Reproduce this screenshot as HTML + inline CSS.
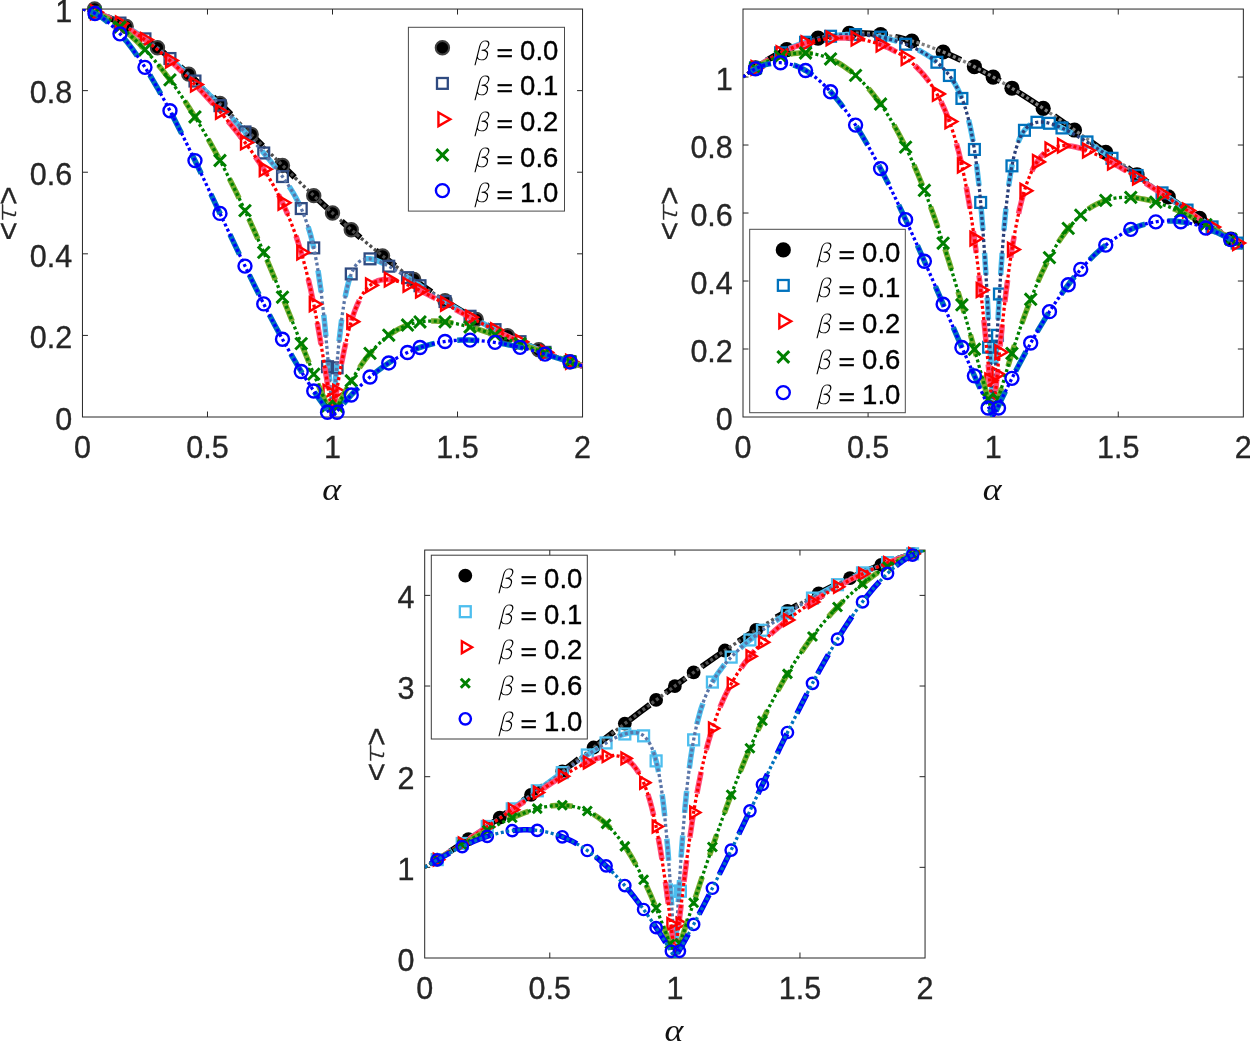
<!DOCTYPE html>
<html lang="en"><head><meta charset="utf-8"><title>Mean first passage time vs alpha</title>
<style>
html,body{margin:0;padding:0;background:#fff;}
body{width:1250px;height:1041px;overflow:hidden;}
svg{display:block;}
</style></head>
<body>
<svg width="1250" height="1041" viewBox="0 0 1250 1041">
<rect width="1250" height="1041" fill="#fff"/>
<clipPath id="clip1"><rect x="82.45" y="9.05" width="500.1" height="407.95"/></clipPath>
<g fill="none" stroke="#262626" stroke-width="1.0">
<rect x="82.45" y="9.05" width="500.1" height="407.95"/>
<path stroke-width="1" d="M207.47 417v-5.5M207.47 9.05v5.5M332.5 417v-5.5M332.5 9.05v5.5M457.52 417v-5.5M457.52 9.05v5.5M82.45 335.41h5.5M582.55 335.41h-5.5M82.45 253.82h5.5M582.55 253.82h-5.5M82.45 172.23h5.5M582.55 172.23h-5.5M82.45 90.64h5.5M582.55 90.64h-5.5"/>
</g>
<g font-family="'Liberation Sans', sans-serif" font-size="30.5" fill="#262626" stroke="#262626" stroke-width="0.35">
<text x="82.45" y="458" text-anchor="middle">0</text>
<text x="207.47" y="458" text-anchor="middle">0.5</text>
<text x="332.5" y="458" text-anchor="middle">1</text>
<text x="457.52" y="458" text-anchor="middle">1.5</text>
<text x="582.55" y="458" text-anchor="middle">2</text>
<text x="72.25" y="430" text-anchor="end">0</text>
<text x="72.25" y="348" text-anchor="end">0.2</text>
<text x="72.25" y="267" text-anchor="end">0.4</text>
<text x="72.25" y="185" text-anchor="end">0.6</text>
<text x="72.25" y="103" text-anchor="end">0.8</text>
<text x="72.25" y="22" text-anchor="end">1</text>
</g>
<text transform="translate(331.6 500.1) scale(1.12 1)" text-anchor="middle" font-family="'Liberation Serif', serif" font-style="italic" font-size="32" fill="#111">α</text>
<g font-family="'Liberation Sans', sans-serif" font-size="31.8" fill="#262626" stroke="#262626" stroke-width="0.35">
<text transform="translate(19.25 213.03) rotate(-90)" x="-27.4" y="0">&lt;</text>
<text transform="translate(19.25 213.03) rotate(-90)" x="8.1" y="0">&gt;</text>
</g>
<text transform="translate(16.45 225.33) rotate(-90) scale(1.2 1)" x="0" y="0" font-family="'DejaVu Sans Light', 'Liberation Serif', serif" font-style="italic" font-size="25.5" fill="#262626" stroke="#262626" stroke-width="0.45">τ</text>
<g clip-path="url(#clip1)" fill="none" stroke="#000000" stroke-width="6.0" stroke-dasharray="25 19.7">
<path d="M91.2 11.1L95 12.2L100 13.9L103.7 15.4L108.7 17.5L112.5 19.2L117.5 21.6L122.5 24.3L127.5 27.2L132.5 30.2L137.5 33.4L142.5 36.8L147.5 40.3L152.5 44L158.7 48.8L163.7 52.7L170 57.8L178.7 65.3L188.7 74.1L198.7 83.3L210 93.9L220 103.5L231.2 114.5L275 158L293.7 176.4L303.7 186.1L313.9 195.7L323.4 204.6L332.5 213L343.3 222.7L353.6 231.8L363.8 240.5L373.8 248.8L383.8 256.8L393.8 264.7L403.8 272.2L412.5 278.6L422.5 285.7L432.5 292.6L442.5 299.1L453.8 306.2L463.8 312.2L473.8 318L483.8 323.5L495 329.5L505 334.5L516.3 339.9L526.3 344.4L537.5 349.2L548.8 353.8L560 358.1L571.3 362.2L582.5 366" stroke-dashoffset="28.25"/>
</g>
<g>
<circle cx="94.6" cy="8.9" r="6.7" fill="#000" stroke="#404040" stroke-width="2"/>
<circle cx="126.21" cy="26.44" r="6.7" fill="#000" stroke="#404040" stroke-width="2"/>
<circle cx="157.46" cy="47.79" r="6.7" fill="#000" stroke="#404040" stroke-width="2"/>
<circle cx="188.72" cy="74.12" r="6.7" fill="#000" stroke="#404040" stroke-width="2"/>
<circle cx="219.98" cy="103.52" r="6.7" fill="#000" stroke="#404040" stroke-width="2"/>
<circle cx="251.23" cy="134.4" r="6.7" fill="#000" stroke="#404040" stroke-width="2"/>
<circle cx="282.49" cy="165.43" r="6.7" fill="#000" stroke="#404040" stroke-width="2"/>
<circle cx="313.75" cy="195.63" r="6.7" fill="#000" stroke="#404040" stroke-width="2"/>
<circle cx="332.5" cy="213.03" r="6.7" fill="#000" stroke="#404040" stroke-width="2"/>
<circle cx="351.25" cy="229.74" r="6.7" fill="#000" stroke="#404040" stroke-width="2"/>
<circle cx="382.51" cy="255.84" r="6.7" fill="#000" stroke="#404040" stroke-width="2"/>
<circle cx="413.77" cy="279.54" r="6.7" fill="#000" stroke="#404040" stroke-width="2"/>
<circle cx="445.02" cy="300.73" r="6.7" fill="#000" stroke="#404040" stroke-width="2"/>
<circle cx="476.28" cy="319.42" r="6.7" fill="#000" stroke="#404040" stroke-width="2"/>
<circle cx="507.53" cy="335.71" r="6.7" fill="#000" stroke="#404040" stroke-width="2"/>
<circle cx="538.79" cy="349.76" r="6.7" fill="#000" stroke="#404040" stroke-width="2"/>
<circle cx="570.05" cy="361.74" r="6.7" fill="#000" stroke="#404040" stroke-width="2"/>
</g>
<g clip-path="url(#clip1)" fill="none">
<path d="M82.5 9.1L86.2 9.8L91.2 11.1L96.2 12.6L101.2 14.4L106.2 16.4L111.2 18.6L116.2 21L121.2 23.6L126.2 26.4L131.2 29.4L136.2 32.6L142.5 36.8L147.5 40.3L153.7 44.9L160 49.7L166.2 54.7L171.2 58.9L176.2 63.1L186.2 71.9L197.5 82.1L208.7 92.7L218.7 102.3L230 113.3L275 158L295 177.7L305 187.3L315.4 197.2L324.8 206L334.1 214.5L344.2 223.6L354.5 232.6L365 241.5L375 249.8L385 257.8L395 265.6L405 273.2L415 280.4L425 287.5L435 294.2L445 300.7L455 307L465 313L475 318.7L485 324.2L496.3 330.1L506.3 335.1L517.5 340.4L527.5 344.9L538.8 349.8L548.8 353.8L560 358.1L571.3 362.2L582.5 366" stroke="#4d4d4d" stroke-width="3.3" stroke-dasharray="3 2.6" stroke-dashoffset="0"/>
</g>
<g clip-path="url(#clip1)" fill="none" stroke="#4DBEEE" stroke-width="5.5" stroke-dasharray="22 22.7">
<path d="M82.5 9.1L87.5 10.1L92.5 11.5L97.5 13.1L102.5 14.9L107.5 17L113.7 19.8L118.7 22.4L125 25.9L130 28.8L136.2 32.8L142.5 37.1L148.7 41.6L155 46.3L161.2 51.3L167.5 56.4L173.7 61.7L181.2 68.3L190 76.3L198.7 84.6L207.5 93.1L217.5 103.1L227.5 113.4L237.5 123.9L246.2 133.3L253.7 141.6L261.2 150.1L267.5 157.4L273.7 165.1L278.7 171.5L283.7 178.3L287.5 183.8L291.2 189.6L293.7 193.8L296.2 198.4L298.7 203.2L300 205.8L302.5 211.4L303.7 214.5L306.2 221.1L307.5 224.8L309.5 231.3L310.5 234.6L312.2 241.4L313.1 244.9L314.6 252.1L316.8 263.1L318.6 274.3L319.7 281.9L320.8 289.4L322.6 304.3L324.5 321.7L326 337.5L327.9 358.6L329.7 381.1L332.5 417" stroke-dashoffset="35.99"/>
<path d="M332.5 417L334.6 390.7L336.3 370.8L337.8 354.3L339.3 339.3L340.9 325.5L342.4 313.8L343.3 307.9L344.2 302.1L345.8 293.7L347 288.3L347.6 285.7L348.9 280.8L349.6 278.6L351.1 274.3L351.9 272.3L352.8 270.5L353.6 268.8L354.5 267.2L355.5 265.7L356.5 264.4L357.5 263.2L358.8 262L360 261.1L361.3 260.3L362.5 259.7L363.8 259.3L365 259L366.3 258.8L367.5 258.7L368.8 258.7L370 258.8L372.5 259.3L375 259.9L377.5 260.8L381.3 262.4L383.8 263.6L387.5 265.5L393.8 269.1L400 272.9L406.3 276.9L426.3 289.7L436.3 296.1L447.5 303L457.5 309L468.8 315.5L480 321.8L491.3 327.7L502.5 333.4L511.3 337.6L521.3 342.2L531.3 346.6L541.3 350.8L551.3 354.8L561.3 358.6L571.3 362.2L582.5 366" stroke-dashoffset="13.48"/>
</g>
<g>
<rect x="89.55" y="6.83" width="10.8" height="10.8" fill="none" stroke="#2F4A80" stroke-width="2.3"/>
<rect x="114.56" y="17.66" width="10.8" height="10.8" fill="none" stroke="#2F4A80" stroke-width="2.3"/>
<rect x="139.56" y="33.46" width="10.8" height="10.8" fill="none" stroke="#2F4A80" stroke-width="2.3"/>
<rect x="164.57" y="53.11" width="10.8" height="10.8" fill="none" stroke="#2F4A80" stroke-width="2.3"/>
<rect x="189.57" y="75.63" width="10.8" height="10.8" fill="none" stroke="#2F4A80" stroke-width="2.3"/>
<rect x="214.58" y="100.25" width="10.8" height="10.8" fill="none" stroke="#2F4A80" stroke-width="2.3"/>
<rect x="239.58" y="126.54" width="10.8" height="10.8" fill="none" stroke="#2F4A80" stroke-width="2.3"/>
<rect x="258.34" y="147.59" width="10.8" height="10.8" fill="none" stroke="#2F4A80" stroke-width="2.3"/>
<rect x="277.09" y="171.16" width="10.8" height="10.8" fill="none" stroke="#2F4A80" stroke-width="2.3"/>
<rect x="295.84" y="203.16" width="10.8" height="10.8" fill="none" stroke="#2F4A80" stroke-width="2.3"/>
<rect x="308.35" y="242.5" width="10.8" height="10.8" fill="none" stroke="#2F4A80" stroke-width="2.3"/>
<rect x="322.1" y="361.3" width="10.8" height="10.8" fill="none" stroke="#2F4A80" stroke-width="2.3"/>
<rect x="331.7" y="362.4" width="10.8" height="10.8" fill="none" stroke="#2F4A80" stroke-width="2.3"/>
<rect x="345.85" y="268.56" width="10.8" height="10.8" fill="none" stroke="#2F4A80" stroke-width="2.3"/>
<rect x="364.61" y="253.45" width="10.8" height="10.8" fill="none" stroke="#2F4A80" stroke-width="2.3"/>
<rect x="383.36" y="260.81" width="10.8" height="10.8" fill="none" stroke="#2F4A80" stroke-width="2.3"/>
<rect x="402.12" y="272.25" width="10.8" height="10.8" fill="none" stroke="#2F4A80" stroke-width="2.3"/>
<rect x="414.62" y="280.31" width="10.8" height="10.8" fill="none" stroke="#2F4A80" stroke-width="2.3"/>
<rect x="439.62" y="296.12" width="10.8" height="10.8" fill="none" stroke="#2F4A80" stroke-width="2.3"/>
<rect x="464.63" y="310.85" width="10.8" height="10.8" fill="none" stroke="#2F4A80" stroke-width="2.3"/>
<rect x="489.63" y="324.24" width="10.8" height="10.8" fill="none" stroke="#2F4A80" stroke-width="2.3"/>
<rect x="514.64" y="336.26" width="10.8" height="10.8" fill="none" stroke="#2F4A80" stroke-width="2.3"/>
<rect x="539.64" y="346.93" width="10.8" height="10.8" fill="none" stroke="#2F4A80" stroke-width="2.3"/>
<rect x="564.65" y="356.34" width="10.8" height="10.8" fill="none" stroke="#2F4A80" stroke-width="2.3"/>
</g>
<g clip-path="url(#clip1)" fill="none">
<path d="M82.5 9.1L87.5 10.1L92.5 11.5L97.5 13.1L102.5 14.9L107.5 17L113.7 19.8L118.7 22.4L125 25.9L130 28.8L136.2 32.8L142.5 37.1L148.7 41.6L155 46.3L161.2 51.3L167.5 56.4L173.7 61.7L181.2 68.3L190 76.3L198.7 84.6L207.5 93.1L217.5 103.1L227.5 113.4L237.5 123.9L246.2 133.3L253.7 141.6L261.2 150.1L267.5 157.4L273.7 165.1L278.7 171.5L283.7 178.3L287.5 183.8L291.2 189.6L293.7 193.8L296.2 198.4L298.7 203.2L300 205.8L302.5 211.4L303.7 214.5L306.2 221.1L307.5 224.8L309.5 231.3L310.5 234.6L312.2 241.4L313.1 244.9L314.6 252.1L316.8 263.1L318.6 274.3L319.7 281.9L320.8 289.4L322.6 304.3L324.5 321.7L326 337.5L327.9 358.6L329.7 381.1L332.5 417L334.6 390.7L336.3 370.8L337.8 354.3L339.3 339.3L340.9 325.5L342.4 313.8L343.3 307.9L344.2 302.1L345.8 293.7L347 288.3L347.6 285.7L348.9 280.8L349.6 278.6L351.1 274.3L351.9 272.3L352.8 270.5L353.6 268.8L354.5 267.2L355.5 265.7L356.5 264.4L357.5 263.2L358.8 262L360 261.1L361.3 260.3L362.5 259.7L363.8 259.3L365 259L366.3 258.8L367.5 258.7L368.8 258.7L370 258.8L372.5 259.3L375 259.9L377.5 260.8L381.3 262.4L383.8 263.6L387.5 265.5L393.8 269.1L400 272.9L406.3 276.9L426.3 289.7L436.3 296.1L447.5 303L457.5 309L468.8 315.5L480 321.8L491.3 327.7L502.5 333.4L511.3 337.6L521.3 342.2L531.3 346.6L541.3 350.8L551.3 354.8L561.3 358.6L571.3 362.2L582.5 366" stroke="#5a75a8" stroke-width="3.3" stroke-dasharray="3 2.6" stroke-dashoffset="0"/>
</g>
<g clip-path="url(#clip1)" fill="none" stroke="#FF4D7A" stroke-width="5.5" stroke-dasharray="22 22.7">
<path d="M82.5 9.1L87.5 10.1L92.5 11.5L97.5 13.1L102.5 15L107.5 17.1L112.5 19.5L117.5 22L123.7 25.6L128.7 28.6L135 32.7L140 36.2L146.2 40.8L151.2 44.6L157.5 49.7L163.7 55L170 60.5L176.2 66.2L183.7 73.4L190 79.6L197.5 87.2L205 95.1L211.2 101.9L218.7 110.4L225 117.6L231.2 125.1L237.5 132.8L243.7 140.8L248.7 147.4L253.7 154.4L258.7 161.6L263.7 169.2L267.5 175.2L271.2 181.5L273.7 185.9L276.2 190.4L278.7 195.2L281.2 200.2L283.7 205.4L286.2 210.9L288.7 216.8L292.5 226.3L295 233.1L296.2 236.7L298.7 244.3L300 248.3L302.5 256.8L303.7 261.3L306.2 270.8L307.5 275.9L310.5 288.7L312.2 296.9L313.9 304.9L316.8 319.9L319.7 336.6L323 356.1L326.3 376.6L332.5 417" stroke-dashoffset="36.73"/>
<path d="M332.5 417L335.8 396.1L338.7 378.8L341.6 363.1L344.2 350L345.8 342.8L347 337.8L348.2 332.6L349.6 327.3L351.9 319.4L353.6 314.2L354.5 311.6L356.5 306.5L357.5 304.1L358.8 301.4L360 298.8L361.3 296.5L362.5 294.4L363.8 292.5L365 290.8L366.3 289.2L367.5 287.8L368.8 286.5L370 285.4L371.3 284.4L372.5 283.5L373.8 282.7L375 282L376.3 281.4L377.5 280.9L378.8 280.5L381.3 279.9L383.8 279.6L385 279.6L387.5 279.6L390 279.8L393.8 280.4L397.5 281.3L401.3 282.5L405 283.8L410 285.9L413.8 287.5L417.5 289.3L422.5 291.8L427.5 294.4L437.5 299.7L465 314.7L481.3 323.2L488.8 327L496.3 330.7L510 337.3L520 341.8L528.8 345.7L537.5 349.4L546.3 352.9L555 356.3L563.8 359.5L572.5 362.6L582.5 366" stroke-dashoffset="35.96"/>
</g>
<g>
<polygon points="102.85,12.27 91,5.43 91,19.11" fill="none" stroke="#FF0000" stroke-width="2.4" stroke-linejoin="miter"/>
<polygon points="127.86,23.4 116.01,16.56 116.01,30.24" fill="none" stroke="#FF0000" stroke-width="2.4" stroke-linejoin="miter"/>
<polygon points="152.86,39.82 141.01,32.98 141.01,46.67" fill="none" stroke="#FF0000" stroke-width="2.4" stroke-linejoin="miter"/>
<polygon points="177.87,60.5 166.02,53.66 166.02,67.34" fill="none" stroke="#FF0000" stroke-width="2.4" stroke-linejoin="miter"/>
<polygon points="202.87,84.62 191.02,77.78 191.02,91.46" fill="none" stroke="#FF0000" stroke-width="2.4" stroke-linejoin="miter"/>
<polygon points="227.88,111.78 216.03,104.94 216.03,118.62" fill="none" stroke="#FF0000" stroke-width="2.4" stroke-linejoin="miter"/>
<polygon points="252.88,142.43 241.03,135.58 241.03,149.27" fill="none" stroke="#FF0000" stroke-width="2.4" stroke-linejoin="miter"/>
<polygon points="271.64,169.17 259.79,162.33 259.79,176.01" fill="none" stroke="#FF0000" stroke-width="2.4" stroke-linejoin="miter"/>
<polygon points="290.39,202.77 278.54,195.92 278.54,209.61" fill="none" stroke="#FF0000" stroke-width="2.4" stroke-linejoin="miter"/>
<polygon points="309.14,252.48 297.29,245.64 297.29,259.33" fill="none" stroke="#FF0000" stroke-width="2.4" stroke-linejoin="miter"/>
<polygon points="321.65,304.26 309.8,297.42 309.8,311.1" fill="none" stroke="#FF0000" stroke-width="2.4" stroke-linejoin="miter"/>
<polygon points="335.4,391.6 323.55,384.76 323.55,398.44" fill="none" stroke="#FF0000" stroke-width="2.4" stroke-linejoin="miter"/>
<polygon points="345,391.6 333.15,384.76 333.15,398.44" fill="none" stroke="#FF0000" stroke-width="2.4" stroke-linejoin="miter"/>
<polygon points="359.15,321.63 347.3,314.79 347.3,328.47" fill="none" stroke="#FF0000" stroke-width="2.4" stroke-linejoin="miter"/>
<polygon points="377.91,285.37 366.06,278.52 366.06,292.21" fill="none" stroke="#FF0000" stroke-width="2.4" stroke-linejoin="miter"/>
<polygon points="396.66,279.66 384.81,272.82 384.81,286.5" fill="none" stroke="#FF0000" stroke-width="2.4" stroke-linejoin="miter"/>
<polygon points="415.41,284.81 403.56,277.97 403.56,291.65" fill="none" stroke="#FF0000" stroke-width="2.4" stroke-linejoin="miter"/>
<polygon points="427.92,290.54 416.07,283.7 416.07,297.38" fill="none" stroke="#FF0000" stroke-width="2.4" stroke-linejoin="miter"/>
<polygon points="452.92,303.79 441.07,296.95 441.07,310.63" fill="none" stroke="#FF0000" stroke-width="2.4" stroke-linejoin="miter"/>
<polygon points="477.93,317.32 466.08,310.48 466.08,324.16" fill="none" stroke="#FF0000" stroke-width="2.4" stroke-linejoin="miter"/>
<polygon points="502.93,330.13 491.08,323.29 491.08,336.97" fill="none" stroke="#FF0000" stroke-width="2.4" stroke-linejoin="miter"/>
<polygon points="527.94,341.85 516.09,335.01 516.09,348.69" fill="none" stroke="#FF0000" stroke-width="2.4" stroke-linejoin="miter"/>
<polygon points="552.94,352.39 541.09,345.55 541.09,359.23" fill="none" stroke="#FF0000" stroke-width="2.4" stroke-linejoin="miter"/>
<polygon points="577.95,361.75 566.1,354.91 566.1,368.59" fill="none" stroke="#FF0000" stroke-width="2.4" stroke-linejoin="miter"/>
</g>
<g clip-path="url(#clip1)" fill="none">
<path d="M82.5 9.1L87.5 10.1L92.5 11.5L97.5 13.1L102.5 15L107.5 17.1L112.5 19.5L117.5 22L123.7 25.6L128.7 28.6L135 32.7L140 36.2L146.2 40.8L151.2 44.6L157.5 49.7L163.7 55L170 60.5L176.2 66.2L183.7 73.4L190 79.6L197.5 87.2L205 95.1L211.2 101.9L218.7 110.4L225 117.6L231.2 125.1L237.5 132.8L243.7 140.8L248.7 147.4L253.7 154.4L258.7 161.6L263.7 169.2L267.5 175.2L271.2 181.5L273.7 185.9L276.2 190.4L278.7 195.2L281.2 200.2L283.7 205.4L286.2 210.9L288.7 216.8L292.5 226.3L295 233.1L296.2 236.7L298.7 244.3L300 248.3L302.5 256.8L303.7 261.3L306.2 270.8L307.5 275.9L310.5 288.7L312.2 296.9L313.9 304.9L316.8 319.9L319.7 336.6L323 356.1L326.3 376.6L332.5 417L335.8 396.1L338.7 378.8L341.6 363.1L344.2 350L345.8 342.8L347 337.8L348.2 332.6L349.6 327.3L351.9 319.4L353.6 314.2L354.5 311.6L356.5 306.5L357.5 304.1L358.8 301.4L360 298.8L361.3 296.5L362.5 294.4L363.8 292.5L365 290.8L366.3 289.2L367.5 287.8L368.8 286.5L370 285.4L371.3 284.4L372.5 283.5L373.8 282.7L375 282L376.3 281.4L377.5 280.9L378.8 280.5L381.3 279.9L383.8 279.6L385 279.6L387.5 279.6L390 279.8L393.8 280.4L397.5 281.3L401.3 282.5L405 283.8L410 285.9L413.8 287.5L417.5 289.3L422.5 291.8L427.5 294.4L437.5 299.7L465 314.7L481.3 323.2L488.8 327L496.3 330.7L510 337.3L520 341.8L528.8 345.7L537.5 349.4L546.3 352.9L555 356.3L563.8 359.5L572.5 362.6L582.5 366" stroke="#FF0000" stroke-width="3.3" stroke-dasharray="3 2.6" stroke-dashoffset="0"/>
</g>
<g clip-path="url(#clip1)" fill="none" stroke="#77AC30" stroke-width="5.5" stroke-dasharray="22 22.7">
<path d="M82.5 9.1L85 9.6L88.7 10.6L91.2 11.3L95 12.7L97.5 13.7L101.2 15.4L105 17.3L108.7 19.4L111.2 21L115 23.4L118.7 26.1L122.5 28.9L126.2 31.9L130 35.1L133.7 38.5L137.5 42.1L140 44.5L143.7 48.4L147.5 52.4L151.2 56.6L155 60.9L158.7 65.4L162.5 70.1L166.2 74.9L170 79.9L173.7 85L177.5 90.3L181.2 95.7L185 101.3L188.7 107L196.2 118.9L203.7 131.4L210 142.3L216.2 153.5L222.5 165.2L228.7 177.3L236.2 192.3L242.5 205.3L250 221.4L255 232.5L260 243.8L265 255.3L270 267.1L276.2 282L282.5 297.2L305 352.8L313.9 374.5L319.2 387.1L323.8 397.7L328.2 407.7L332.5 417" stroke-dashoffset="38.02"/>
<path d="M332.5 417L338 405.6L343.3 395.2L348.2 386L351.1 381L353.6 376.8L356.5 372.2L358.8 368.7L361.3 365L363.8 361.4L366.3 358.1L368.8 354.9L371.3 351.9L373.8 349L376.3 346.3L378.8 343.8L381.3 341.4L383.8 339.2L386.3 337.1L388.8 335.2L391.3 333.4L393.8 331.8L396.3 330.3L398.8 328.9L401.3 327.7L405 326L407.5 325.1L410 324.2L412.5 323.5L416.3 322.6L418.8 322.2L421.3 321.8L423.8 321.5L427.5 321.2L432.5 321L435 321.1L438.8 321.3L441.3 321.5L445 321.9L448.8 322.4L452.5 323L456.3 323.7L460 324.5L467.5 326.3L473.8 328.1L480 329.9L487.5 332.3L495 334.9L510 340.2L541.3 351.6L555 356.6L568.8 361.4L582.5 366" stroke-dashoffset="33.13"/>
</g>
<g>
<path d="M89.05 6.77L100.85 18.57M89.05 18.57L100.85 6.77" fill="none" stroke="#008000" stroke-width="3.0"/>
<path d="M114.06 21.08L125.86 32.88M114.06 32.88L125.86 21.08" fill="none" stroke="#008000" stroke-width="3.0"/>
<path d="M139.06 43.81L150.86 55.61M139.06 55.61L150.86 43.81" fill="none" stroke="#008000" stroke-width="3.0"/>
<path d="M164.07 74L175.87 85.8M164.07 85.8L175.87 74" fill="none" stroke="#008000" stroke-width="3.0"/>
<path d="M189.07 111.02L200.87 122.82M189.07 122.82L200.87 111.02" fill="none" stroke="#008000" stroke-width="3.0"/>
<path d="M214.08 154.59L225.88 166.39M214.08 166.39L225.88 154.59" fill="none" stroke="#008000" stroke-width="3.0"/>
<path d="M239.08 204.72L250.88 216.52M239.08 216.52L250.88 204.72" fill="none" stroke="#008000" stroke-width="3.0"/>
<path d="M257.84 246.51L269.64 258.31M257.84 258.31L269.64 246.51" fill="none" stroke="#008000" stroke-width="3.0"/>
<path d="M276.59 291.31L288.39 303.11M276.59 303.11L288.39 291.31" fill="none" stroke="#008000" stroke-width="3.0"/>
<path d="M295.34 337.69L307.14 349.49M295.34 349.49L307.14 337.69" fill="none" stroke="#008000" stroke-width="3.0"/>
<path d="M307.85 368.26L319.65 380.06M307.85 380.06L319.65 368.26" fill="none" stroke="#008000" stroke-width="3.0"/>
<path d="M321.6 400.19L333.4 411.99M321.6 411.99L333.4 400.19" fill="none" stroke="#008000" stroke-width="3.0"/>
<path d="M331.6 400.67L343.4 412.47M331.6 412.47L343.4 400.67" fill="none" stroke="#008000" stroke-width="3.0"/>
<path d="M345.35 374.86L357.15 386.66M345.35 386.66L357.15 374.86" fill="none" stroke="#008000" stroke-width="3.0"/>
<path d="M364.11 347.45L375.91 359.25M364.11 359.25L375.91 347.45" fill="none" stroke="#008000" stroke-width="3.0"/>
<path d="M382.86 329.27L394.66 341.07M382.86 341.07L394.66 329.27" fill="none" stroke="#008000" stroke-width="3.0"/>
<path d="M401.62 319.18L413.41 330.98M401.62 330.98L413.41 319.18" fill="none" stroke="#008000" stroke-width="3.0"/>
<path d="M414.12 316.05L425.92 327.85M414.12 327.85L425.92 316.05" fill="none" stroke="#008000" stroke-width="3.0"/>
<path d="M439.12 315.96L450.92 327.76M439.12 327.76L450.92 315.96" fill="none" stroke="#008000" stroke-width="3.0"/>
<path d="M464.13 321.11L475.93 332.91M464.13 332.91L475.93 321.11" fill="none" stroke="#008000" stroke-width="3.0"/>
<path d="M489.13 328.95L500.93 340.75M489.13 340.75L500.93 328.95" fill="none" stroke="#008000" stroke-width="3.0"/>
<path d="M514.14 337.92L525.94 349.72M514.14 349.72L525.94 337.92" fill="none" stroke="#008000" stroke-width="3.0"/>
<path d="M539.14 347.07L550.94 358.87M539.14 358.87L550.94 347.07" fill="none" stroke="#008000" stroke-width="3.0"/>
<path d="M564.15 355.9L575.95 367.7M564.15 367.7L575.95 355.9" fill="none" stroke="#008000" stroke-width="3.0"/>
</g>
<g clip-path="url(#clip1)" fill="none">
<path d="M82.5 9.1L85 9.6L88.7 10.6L91.2 11.3L95 12.7L97.5 13.7L101.2 15.4L105 17.3L108.7 19.4L111.2 21L115 23.4L118.7 26.1L122.5 28.9L126.2 31.9L130 35.1L133.7 38.5L137.5 42.1L140 44.5L143.7 48.4L147.5 52.4L151.2 56.6L155 60.9L158.7 65.4L162.5 70.1L166.2 74.9L170 79.9L173.7 85L177.5 90.3L181.2 95.7L185 101.3L188.7 107L196.2 118.9L203.7 131.4L210 142.3L216.2 153.5L222.5 165.2L228.7 177.3L236.2 192.3L242.5 205.3L250 221.4L255 232.5L260 243.8L265 255.3L270 267.1L276.2 282L282.5 297.2L305 352.8L313.9 374.5L319.2 387.1L323.8 397.7L328.2 407.7L332.5 417L338 405.6L343.3 395.2L348.2 386L351.1 381L353.6 376.8L356.5 372.2L358.8 368.7L361.3 365L363.8 361.4L366.3 358.1L368.8 354.9L371.3 351.9L373.8 349L376.3 346.3L378.8 343.8L381.3 341.4L383.8 339.2L386.3 337.1L388.8 335.2L391.3 333.4L393.8 331.8L396.3 330.3L398.8 328.9L401.3 327.7L405 326L407.5 325.1L410 324.2L412.5 323.5L416.3 322.6L418.8 322.2L421.3 321.8L423.8 321.5L427.5 321.2L432.5 321L435 321.1L438.8 321.3L441.3 321.5L445 321.9L448.8 322.4L452.5 323L456.3 323.7L460 324.5L467.5 326.3L473.8 328.1L480 329.9L487.5 332.3L495 334.9L510 340.2L541.3 351.6L555 356.6L568.8 361.4L582.5 366" stroke="#008000" stroke-width="3.3" stroke-dasharray="3 2.6" stroke-dashoffset="0"/>
</g>
<g clip-path="url(#clip1)" fill="none" stroke="#0072BD" stroke-width="5.5" stroke-dasharray="22 22.7">
<path d="M82.5 9.1L83.7 9.3L86.2 9.9L90 11.2L93.7 12.8L96.2 14.1L98.7 15.6L102.5 18L106.2 20.8L110 24L112.5 26.2L115 28.6L118.7 32.5L121.2 35.2L123.7 38.1L127.5 42.6L132.5 49.1L136.2 54.3L141.2 61.6L145 67.3L150 75.3L153.7 81.6L157.5 88L161.2 94.7L165 101.5L168.7 108.4L173.7 117.9L182.5 135.1L191.2 152.9L200 171L208.7 189.5L232.5 239.9L240 255.7L247.5 271.2L255 286.5L261.2 299L268.7 313.6L275 325.5L282.5 339.3L290 352.6L297.5 365.3L305 377.5L312.2 388.7L318.6 398.1L322.2 403.1L325.7 408L332.5 417" stroke-dashoffset="37.68"/>
<path d="M332.5 417L339 408.9L345.3 401.6L351.1 395.1L354.5 391.5L357.5 388.6L363.8 382.6L370 377L372.5 374.9L376.3 371.9L378.8 370L382.5 367.2L385 365.4L388.8 362.9L391.3 361.3L395 359.1L397.5 357.6L401.3 355.6L405 353.7L408.8 352L411.3 350.9L415 349.3L418.8 347.9L422.5 346.7L428.8 344.8L432.5 343.9L436.3 343L442.5 341.9L446.3 341.3L450 340.9L453.8 340.5L457.5 340.3L461.3 340.1L465 340.1L468.8 340.1L472.5 340.2L480 340.6L487.5 341.4L491.3 341.8L496.3 342.6L505 344.1L513.8 345.9L522.5 347.9L532.5 350.5L542.5 353.4L553.8 356.8L566.3 360.7L582.5 366" stroke-dashoffset="27.47"/>
</g>
<g>
<circle cx="94.95" cy="13.47" r="6.5" fill="none" stroke="#0000FF" stroke-width="2.4"/>
<circle cx="119.96" cy="33.84" r="6.5" fill="none" stroke="#0000FF" stroke-width="2.4"/>
<circle cx="144.96" cy="67.34" r="6.5" fill="none" stroke="#0000FF" stroke-width="2.4"/>
<circle cx="169.97" cy="110.76" r="6.5" fill="none" stroke="#0000FF" stroke-width="2.4"/>
<circle cx="194.97" cy="160.6" r="6.5" fill="none" stroke="#0000FF" stroke-width="2.4"/>
<circle cx="219.98" cy="213.41" r="6.5" fill="none" stroke="#0000FF" stroke-width="2.4"/>
<circle cx="244.98" cy="266.09" r="6.5" fill="none" stroke="#0000FF" stroke-width="2.4"/>
<circle cx="263.74" cy="303.9" r="6.5" fill="none" stroke="#0000FF" stroke-width="2.4"/>
<circle cx="282.49" cy="339.26" r="6.5" fill="none" stroke="#0000FF" stroke-width="2.4"/>
<circle cx="301.24" cy="371.49" r="6.5" fill="none" stroke="#0000FF" stroke-width="2.4"/>
<circle cx="313.75" cy="390.98" r="6.5" fill="none" stroke="#0000FF" stroke-width="2.4"/>
<circle cx="327.5" cy="412.2" r="6.5" fill="none" stroke="#0000FF" stroke-width="2.4"/>
<circle cx="337.1" cy="412.2" r="6.5" fill="none" stroke="#0000FF" stroke-width="2.4"/>
<circle cx="351.25" cy="394.99" r="6.5" fill="none" stroke="#0000FF" stroke-width="2.4"/>
<circle cx="370.01" cy="377" r="6.5" fill="none" stroke="#0000FF" stroke-width="2.4"/>
<circle cx="388.76" cy="362.93" r="6.5" fill="none" stroke="#0000FF" stroke-width="2.4"/>
<circle cx="407.51" cy="352.53" r="6.5" fill="none" stroke="#0000FF" stroke-width="2.4"/>
<circle cx="420.02" cy="347.49" r="6.5" fill="none" stroke="#0000FF" stroke-width="2.4"/>
<circle cx="445.02" cy="341.49" r="6.5" fill="none" stroke="#0000FF" stroke-width="2.4"/>
<circle cx="470.03" cy="340.11" r="6.5" fill="none" stroke="#0000FF" stroke-width="2.4"/>
<circle cx="495.03" cy="342.37" r="6.5" fill="none" stroke="#0000FF" stroke-width="2.4"/>
<circle cx="520.04" cy="347.33" r="6.5" fill="none" stroke="#0000FF" stroke-width="2.4"/>
<circle cx="545.04" cy="354.1" r="6.5" fill="none" stroke="#0000FF" stroke-width="2.4"/>
<circle cx="570.05" cy="361.91" r="6.5" fill="none" stroke="#0000FF" stroke-width="2.4"/>
</g>
<g clip-path="url(#clip1)" fill="none">
<path d="M82.5 9.1L83.7 9.3L86.2 9.9L90 11.2L93.7 12.8L96.2 14.1L98.7 15.6L102.5 18L106.2 20.8L110 24L112.5 26.2L115 28.6L118.7 32.5L121.2 35.2L123.7 38.1L127.5 42.6L132.5 49.1L136.2 54.3L141.2 61.6L145 67.3L150 75.3L153.7 81.6L157.5 88L161.2 94.7L165 101.5L168.7 108.4L173.7 117.9L182.5 135.1L191.2 152.9L200 171L208.7 189.5L232.5 239.9L240 255.7L247.5 271.2L255 286.5L261.2 299L268.7 313.6L275 325.5L282.5 339.3L290 352.6L297.5 365.3L305 377.5L312.2 388.7L318.6 398.1L322.2 403.1L325.7 408L332.5 417L339 408.9L345.3 401.6L351.1 395.1L354.5 391.5L357.5 388.6L363.8 382.6L370 377L372.5 374.9L376.3 371.9L378.8 370L382.5 367.2L385 365.4L388.8 362.9L391.3 361.3L395 359.1L397.5 357.6L401.3 355.6L405 353.7L408.8 352L411.3 350.9L415 349.3L418.8 347.9L422.5 346.7L428.8 344.8L432.5 343.9L436.3 343L442.5 341.9L446.3 341.3L450 340.9L453.8 340.5L457.5 340.3L461.3 340.1L465 340.1L468.8 340.1L472.5 340.2L480 340.6L487.5 341.4L491.3 341.8L496.3 342.6L505 344.1L513.8 345.9L522.5 347.9L532.5 350.5L542.5 353.4L553.8 356.8L566.3 360.7L582.5 366" stroke="#0000FF" stroke-width="3.3" stroke-dasharray="3 2.6" stroke-dashoffset="0"/>
</g>
<rect x="408.4" y="27.3" width="156.1" height="183.8" fill="#fff" stroke="#4a4a4a" stroke-width="1"/>
<circle cx="442.4" cy="47.8" r="6.7" fill="#000" stroke="#404040" stroke-width="2"/>
<text x="472.8" y="59.6" font-family="'DejaVu Sans Light', 'Liberation Serif', serif" font-style="italic" font-size="25.8" fill="#000">β</text>
<text transform="translate(496.5 60.5) scale(1.03 0.9)" font-family="'Liberation Sans', sans-serif" font-size="27.5" fill="#000" stroke="#000" stroke-width="0.5">=</text>
<text x="520.1" y="59.6" font-family="'Liberation Sans', sans-serif" font-size="27.5" fill="#000" stroke="#000" stroke-width="0.35">0.0</text>
<rect x="437" y="78" width="10.8" height="10.8" fill="none" stroke="#2F4A80" stroke-width="2.3"/>
<text x="472.8" y="95.2" font-family="'DejaVu Sans Light', 'Liberation Serif', serif" font-style="italic" font-size="25.8" fill="#000">β</text>
<text transform="translate(496.5 96.1) scale(1.03 0.9)" font-family="'Liberation Sans', sans-serif" font-size="27.5" fill="#000" stroke="#000" stroke-width="0.5">=</text>
<text x="520.1" y="95.2" font-family="'Liberation Sans', sans-serif" font-size="27.5" fill="#000" stroke="#000" stroke-width="0.35">0.1</text>
<polygon points="450.3,119.3 438.45,112.46 438.45,126.14" fill="none" stroke="#FF0000" stroke-width="2.4" stroke-linejoin="miter"/>
<text x="472.8" y="131.1" font-family="'DejaVu Sans Light', 'Liberation Serif', serif" font-style="italic" font-size="25.8" fill="#000">β</text>
<text transform="translate(496.5 132) scale(1.03 0.9)" font-family="'Liberation Sans', sans-serif" font-size="27.5" fill="#000" stroke="#000" stroke-width="0.5">=</text>
<text x="520.1" y="131.1" font-family="'Liberation Sans', sans-serif" font-size="27.5" fill="#000" stroke="#000" stroke-width="0.35">0.2</text>
<path d="M436.5 149.1L448.3 160.9M436.5 160.9L448.3 149.1" fill="none" stroke="#008000" stroke-width="3.0"/>
<text x="472.8" y="166.8" font-family="'DejaVu Sans Light', 'Liberation Serif', serif" font-style="italic" font-size="25.8" fill="#000">β</text>
<text transform="translate(496.5 167.7) scale(1.03 0.9)" font-family="'Liberation Sans', sans-serif" font-size="27.5" fill="#000" stroke="#000" stroke-width="0.5">=</text>
<text x="520.1" y="166.8" font-family="'Liberation Sans', sans-serif" font-size="27.5" fill="#000" stroke="#000" stroke-width="0.35">0.6</text>
<circle cx="442.4" cy="190.6" r="6.5" fill="none" stroke="#0000FF" stroke-width="2.4"/>
<text x="472.8" y="202.4" font-family="'DejaVu Sans Light', 'Liberation Serif', serif" font-style="italic" font-size="25.8" fill="#000">β</text>
<text transform="translate(496.5 203.3) scale(1.03 0.9)" font-family="'Liberation Sans', sans-serif" font-size="27.5" fill="#000" stroke="#000" stroke-width="0.5">=</text>
<text x="520.1" y="202.4" font-family="'Liberation Sans', sans-serif" font-size="27.5" fill="#000" stroke="#000" stroke-width="0.35">1.0</text>
<clipPath id="clip2"><rect x="743" y="9.05" width="500.35" height="407.95"/></clipPath>
<g fill="none" stroke="#262626" stroke-width="1.0">
<rect x="743" y="9.05" width="500.35" height="407.95"/>
<path stroke-width="1" d="M868.09 417v-5.5M868.09 9.05v5.5M993.17 417v-5.5M993.17 9.05v5.5M1118.26 417v-5.5M1118.26 9.05v5.5M743 349.01h5.5M1243.35 349.01h-5.5M743 281.02h5.5M1243.35 281.02h-5.5M743 213.03h5.5M1243.35 213.03h-5.5M743 145.03h5.5M1243.35 145.03h-5.5M743 77.04h5.5M1243.35 77.04h-5.5"/>
</g>
<g font-family="'Liberation Sans', sans-serif" font-size="30.5" fill="#262626" stroke="#262626" stroke-width="0.35">
<text x="743" y="458" text-anchor="middle">0</text>
<text x="868.09" y="458" text-anchor="middle">0.5</text>
<text x="993.17" y="458" text-anchor="middle">1</text>
<text x="1118.26" y="458" text-anchor="middle">1.5</text>
<text x="1243.35" y="458" text-anchor="middle">2</text>
<text x="732.8" y="430" text-anchor="end">0</text>
<text x="732.8" y="362" text-anchor="end">0.2</text>
<text x="732.8" y="294" text-anchor="end">0.4</text>
<text x="732.8" y="226" text-anchor="end">0.6</text>
<text x="732.8" y="158" text-anchor="end">0.8</text>
<text x="732.8" y="90" text-anchor="end">1</text>
</g>
<text transform="translate(992.27 500.1) scale(1.12 1)" text-anchor="middle" font-family="'Liberation Serif', serif" font-style="italic" font-size="32" fill="#111">α</text>
<g font-family="'Liberation Sans', sans-serif" font-size="31.8" fill="#262626" stroke="#262626" stroke-width="0.35">
<text transform="translate(679.8 213.03) rotate(-90)" x="-27.4" y="0">&lt;</text>
<text transform="translate(679.8 213.03) rotate(-90)" x="8.1" y="0">&gt;</text>
</g>
<text transform="translate(677 225.33) rotate(-90) scale(1.2 1)" x="0" y="0" font-family="'DejaVu Sans Light', 'Liberation Serif', serif" font-style="italic" font-size="25.5" fill="#262626" stroke="#262626" stroke-width="0.45">τ</text>
<g clip-path="url(#clip2)" fill="none" stroke="#000000" stroke-width="6.0" stroke-dasharray="25 19.7">
<path d="M751.8 70.4L756.8 66.9L761.8 63.6L766.8 60.4L773 56.7L778 54L783 51.4L788 49L794.3 46.2L799.3 44.2L804.3 42.4L809.3 40.7L815.6 38.9L820.6 37.6L825.6 36.5L830.6 35.5L836.8 34.6L841.8 34L848.1 33.5L853.1 33.2L859.3 33.1L864.3 33.2L870.6 33.6L875.6 34L881.8 34.7L886.9 35.4L893.1 36.5L899.4 37.8L905.6 39.3L910.6 40.6L916.9 42.5L923.1 44.5L929.4 46.6L934.4 48.5L939.4 50.5L944.4 52.5L950.6 55.2L955.6 57.5L961.9 60.4L966.9 62.9L972.9 65.9L978.7 69L984.4 72.1L990.4 75.4L996.4 78.9L1008.9 86.4L1021.9 94.5L1032 101L1043.2 108.5L1055.7 116.9L1068.2 125.6L1092 142.4L1152 185.4L1169.5 197.8L1184.6 208.2L1199.6 218.5L1214.6 228.5L1229.6 238.3L1243.3 247" stroke-dashoffset="26.84"/>
</g>
<g>
<circle cx="755.51" cy="67.79" r="7.6" fill="#000"/>
<circle cx="786.78" cy="49.56" r="7.6" fill="#000"/>
<circle cx="818.05" cy="38.2" r="7.6" fill="#000"/>
<circle cx="849.32" cy="33.38" r="7.6" fill="#000"/>
<circle cx="880.6" cy="34.54" r="7.6" fill="#000"/>
<circle cx="911.87" cy="41" r="7.6" fill="#000"/>
<circle cx="943.14" cy="52" r="7.6" fill="#000"/>
<circle cx="974.41" cy="66.74" r="7.6" fill="#000"/>
<circle cx="993.17" cy="77.04" r="7.6" fill="#000"/>
<circle cx="1011.94" cy="88.24" r="7.6" fill="#000"/>
<circle cx="1043.21" cy="108.45" r="7.6" fill="#000"/>
<circle cx="1074.48" cy="130.01" r="7.6" fill="#000"/>
<circle cx="1105.75" cy="152.28" r="7.6" fill="#000"/>
<circle cx="1137.03" cy="174.73" r="7.6" fill="#000"/>
<circle cx="1168.3" cy="196.92" r="7.6" fill="#000"/>
<circle cx="1199.57" cy="218.46" r="7.6" fill="#000"/>
<circle cx="1230.84" cy="239.08" r="7.6" fill="#000"/>
</g>
<g clip-path="url(#clip2)" fill="none">
<path d="M743 77L749.3 72.3L754.3 68.7L759.3 65.2L764.3 62L769.3 58.9L775.5 55.3L780.5 52.6L786.8 49.6L791.8 47.3L796.8 45.2L801.8 43.3L808 41.1L813 39.6L819.3 37.9L824.3 36.7L830.6 35.5L835.6 34.7L841.8 34L846.8 33.5L853.1 33.2L858.1 33.1L864.3 33.2L869.3 33.5L875.6 34L880.6 34.5L886.9 35.4L893.1 36.5L899.4 37.8L905.6 39.3L911.9 41L918.1 42.9L924.4 44.9L929.4 46.6L934.4 48.5L939.4 50.5L945.6 53L950.6 55.2L956.9 58.1L963.2 61L969.2 64L975.3 67.2L980.9 70.2L986.9 73.5L993.3 77.1L999.4 80.7L1005.9 84.6L1019.4 92.9L1030.7 100.2L1042 107.6L1054.5 116.1L1067 124.7L1078.2 132.7L1092 142.4L1135.8 173.8L1153.3 186.3L1170.8 198.7L1185.8 209.1L1200.8 219.3L1215.8 229.3L1229.6 238.3L1243.3 247" stroke="#808080" stroke-width="3.3" stroke-dasharray="3 2.6" stroke-dashoffset="0"/>
</g>
<g clip-path="url(#clip2)" fill="none" stroke="#4DBEEE" stroke-width="5.5" stroke-dasharray="22 22.7">
<path d="M743 77L746.8 74.1L750.5 71.4L756.8 66.9L763 62.8L769.3 59L775.5 55.4L779.3 53.4L783 51.5L789.3 48.6L793 46.9L796.8 45.4L803 43.1L806.8 41.9L810.5 40.7L816.8 39L820.6 38.1L824.3 37.3L830.6 36.2L834.3 35.7L838.1 35.3L844.3 34.8L848.1 34.6L851.8 34.5L855.6 34.5L859.3 34.7L863.1 34.9L866.8 35.2L870.6 35.6L874.3 36.1L878.1 36.7L881.8 37.4L885.6 38.2L889.4 39.1L895.6 40.8L899.4 42L903.1 43.3L906.9 44.7L909.4 45.8L913.1 47.4L915.6 48.6L919.4 50.5L921.9 51.9L924.4 53.4L926.9 54.9L929.4 56.6L931.9 58.3L934.4 60.2L936.9 62.3L939.4 64.5L941.9 66.9L944.4 69.5L945.6 70.9L948.1 73.9L949.4 75.5L951.9 79L954.4 83L956.9 87.4L958.2 89.9L959.4 92.5L960.7 95.4L961.9 98.4L963.2 101.7L964.4 105.3L965.7 109.2L966.9 113.5L968.2 118.1L969.2 122.3L970.2 126.6L972 135.6L972.9 140.4L974.5 150.3L975.3 155.4L976.7 166L978.7 182.5L979.9 193.9L980.9 205.4L982.8 228.5L984.8 256.4L986.7 286.9L988.5 320.9L990.5 360.1L993.2 417" stroke-dashoffset="35.71"/>
<path d="M993.2 417L995.5 369.1L997.3 332.8L998.9 302.8L1000.6 275.7L1002.3 250.6L1004 229.7L1004.9 219.2L1005.9 208.8L1007.7 193.7L1008.9 184.1L1009.6 179.5L1011 170.7L1011.8 166.5L1013.4 158.7L1014.3 155L1015.2 151.6L1016.2 148.3L1017.2 145.2L1018.2 142.3L1019.4 139.2L1020.7 136.5L1021.9 134.1L1023.2 132.1L1024.4 130.3L1025.7 128.8L1026.9 127.4L1028.2 126.3L1029.5 125.3L1030.7 124.5L1032 123.9L1033.2 123.3L1034.5 122.9L1035.7 122.5L1037 122.3L1039.5 122L1042 122L1044.5 122.2L1047 122.7L1049.5 123.3L1053.2 124.4L1055.7 125.3L1059.5 126.9L1063.2 128.6L1067 130.4L1070.7 132.4L1075.7 135.2L1082 138.9L1089.5 143.5L1097 148.3L1105.8 154.1L1123.3 166L1170.8 198.9L1194.6 215.2L1207.1 223.6L1219.6 231.8L1232.1 239.9L1243.3 247" stroke-dashoffset="36.53"/>
</g>
<g>
<rect x="750.11" y="62.4" width="10.8" height="10.8" fill="none" stroke="#0072BD" stroke-width="2.3"/>
<rect x="775.13" y="47.35" width="10.8" height="10.8" fill="none" stroke="#0072BD" stroke-width="2.3"/>
<rect x="800.14" y="36.86" width="10.8" height="10.8" fill="none" stroke="#0072BD" stroke-width="2.3"/>
<rect x="825.16" y="30.83" width="10.8" height="10.8" fill="none" stroke="#0072BD" stroke-width="2.3"/>
<rect x="850.18" y="29.15" width="10.8" height="10.8" fill="none" stroke="#0072BD" stroke-width="2.3"/>
<rect x="875.2" y="31.73" width="10.8" height="10.8" fill="none" stroke="#0072BD" stroke-width="2.3"/>
<rect x="900.21" y="38.85" width="10.8" height="10.8" fill="none" stroke="#0072BD" stroke-width="2.3"/>
<rect x="931.49" y="56.87" width="10.8" height="10.8" fill="none" stroke="#0072BD" stroke-width="2.3"/>
<rect x="943.99" y="70.1" width="10.8" height="10.8" fill="none" stroke="#0072BD" stroke-width="2.3"/>
<rect x="956.5" y="93.03" width="10.8" height="10.8" fill="none" stroke="#0072BD" stroke-width="2.3"/>
<rect x="969.01" y="144.05" width="10.8" height="10.8" fill="none" stroke="#0072BD" stroke-width="2.3"/>
<rect x="975.27" y="197.03" width="10.8" height="10.8" fill="none" stroke="#0072BD" stroke-width="2.3"/>
<rect x="983.2" y="341.8" width="10.8" height="10.8" fill="none" stroke="#0072BD" stroke-width="2.3"/>
<rect x="992.1" y="329.9" width="10.8" height="10.8" fill="none" stroke="#0072BD" stroke-width="2.3"/>
<rect x="994.03" y="288.61" width="10.8" height="10.8" fill="none" stroke="#0072BD" stroke-width="2.3"/>
<rect x="1006.54" y="160.47" width="10.8" height="10.8" fill="none" stroke="#0072BD" stroke-width="2.3"/>
<rect x="1019.05" y="124.91" width="10.8" height="10.8" fill="none" stroke="#0072BD" stroke-width="2.3"/>
<rect x="1031.56" y="116.86" width="10.8" height="10.8" fill="none" stroke="#0072BD" stroke-width="2.3"/>
<rect x="1044.06" y="117.88" width="10.8" height="10.8" fill="none" stroke="#0072BD" stroke-width="2.3"/>
<rect x="1056.57" y="122.59" width="10.8" height="10.8" fill="none" stroke="#0072BD" stroke-width="2.3"/>
<rect x="1081.59" y="136.52" width="10.8" height="10.8" fill="none" stroke="#0072BD" stroke-width="2.3"/>
<rect x="1106.61" y="152.88" width="10.8" height="10.8" fill="none" stroke="#0072BD" stroke-width="2.3"/>
<rect x="1131.63" y="170.08" width="10.8" height="10.8" fill="none" stroke="#0072BD" stroke-width="2.3"/>
<rect x="1156.64" y="187.47" width="10.8" height="10.8" fill="none" stroke="#0072BD" stroke-width="2.3"/>
<rect x="1181.66" y="204.68" width="10.8" height="10.8" fill="none" stroke="#0072BD" stroke-width="2.3"/>
<rect x="1206.68" y="221.47" width="10.8" height="10.8" fill="none" stroke="#0072BD" stroke-width="2.3"/>
<rect x="1231.7" y="237.68" width="10.8" height="10.8" fill="none" stroke="#0072BD" stroke-width="2.3"/>
</g>
<g clip-path="url(#clip2)" fill="none">
<path d="M743 77L746.8 74.1L750.5 71.4L756.8 66.9L763 62.8L769.3 59L775.5 55.4L779.3 53.4L783 51.5L789.3 48.6L793 46.9L796.8 45.4L803 43.1L806.8 41.9L810.5 40.7L816.8 39L820.6 38.1L824.3 37.3L830.6 36.2L834.3 35.7L838.1 35.3L844.3 34.8L848.1 34.6L851.8 34.5L855.6 34.5L859.3 34.7L863.1 34.9L866.8 35.2L870.6 35.6L874.3 36.1L878.1 36.7L881.8 37.4L885.6 38.2L889.4 39.1L895.6 40.8L899.4 42L903.1 43.3L906.9 44.7L909.4 45.8L913.1 47.4L915.6 48.6L919.4 50.5L921.9 51.9L924.4 53.4L926.9 54.9L929.4 56.6L931.9 58.3L934.4 60.2L936.9 62.3L939.4 64.5L941.9 66.9L944.4 69.5L945.6 70.9L948.1 73.9L949.4 75.5L951.9 79L954.4 83L956.9 87.4L958.2 89.9L959.4 92.5L960.7 95.4L961.9 98.4L963.2 101.7L964.4 105.3L965.7 109.2L966.9 113.5L968.2 118.1L969.2 122.3L970.2 126.6L972 135.6L972.9 140.4L974.5 150.3L975.3 155.4L976.7 166L978.7 182.5L979.9 193.9L980.9 205.4L982.8 228.5L984.8 256.4L986.7 286.9L988.5 320.9L990.5 360.1L993.2 417L995.5 369.1L997.3 332.8L998.9 302.8L1000.6 275.7L1002.3 250.6L1004 229.7L1004.9 219.2L1005.9 208.8L1007.7 193.7L1008.9 184.1L1009.6 179.5L1011 170.7L1011.8 166.5L1013.4 158.7L1014.3 155L1015.2 151.6L1016.2 148.3L1017.2 145.2L1018.2 142.3L1019.4 139.2L1020.7 136.5L1021.9 134.1L1023.2 132.1L1024.4 130.3L1025.7 128.8L1026.9 127.4L1028.2 126.3L1029.5 125.3L1030.7 124.5L1032 123.9L1033.2 123.3L1034.5 122.9L1035.7 122.5L1037 122.3L1039.5 122L1042 122L1044.5 122.2L1047 122.7L1049.5 123.3L1053.2 124.4L1055.7 125.3L1059.5 126.9L1063.2 128.6L1067 130.4L1070.7 132.4L1075.7 135.2L1082 138.9L1089.5 143.5L1097 148.3L1105.8 154.1L1123.3 166L1170.8 198.9L1194.6 215.2L1207.1 223.6L1219.6 231.8L1232.1 239.9L1243.3 247" stroke="#2a3f7a" stroke-width="3.3" stroke-dasharray="3 2.6" stroke-dashoffset="0"/>
</g>
<g clip-path="url(#clip2)" fill="none" stroke="#FF4D7A" stroke-width="5.5" stroke-dasharray="22 22.7">
<path d="M743 77L746.8 74.2L750.5 71.4L756.8 67L763 62.9L769.3 59.1L775.5 55.6L781.8 52.5L788 49.6L794.3 47L800.5 44.8L806.8 42.9L813 41.2L819.3 39.9L825.6 38.9L831.8 38.2L838.1 37.9L844.3 37.8L848.1 38L850.6 38.1L854.3 38.5L856.8 38.8L860.6 39.3L863.1 39.8L866.8 40.6L869.3 41.2L873.1 42.2L875.6 42.9L880.6 44.6L884.3 46.1L886.9 47.1L891.9 49.5L896.9 52.2L899.4 53.7L901.9 55.4L904.4 57.1L906.9 58.9L909.4 60.8L911.9 62.9L914.4 65.1L916.9 67.5L920.6 71.3L924.4 75.6L928.1 80.4L931.9 85.7L934.4 89.7L936.9 93.9L939.4 98.5L941.9 103.5L944.4 108.9L946.9 114.9L949.4 121.4L951.9 128.6L954.4 136.5L956.9 145.2L958.2 149.9L960.7 160.1L961.9 165.6L964.4 177.4L965.7 183.8L966.9 190.5L969.2 203.6L972 221.8L973.7 233.7L975.3 245.3L976.7 256.6L978.7 272.6L981.4 297L984.8 329.2L988.1 363.2L993.2 417" stroke-dashoffset="35.21"/>
<path d="M993.2 417L997.1 375.6L1000.3 344L1003.1 317.5L1005.9 293.1L1007.7 279.5L1008.9 270.1L1010.3 260.3L1011.8 250.4L1014.3 235.3L1016.2 225.2L1017.2 220.2L1019.4 209.7L1020.7 204.4L1021.9 199.5L1023.2 195L1024.4 190.7L1025.7 186.8L1026.9 183.1L1028.2 179.7L1029.5 176.5L1030.7 173.6L1032 170.9L1033.2 168.3L1034.5 166L1035.7 163.9L1037 161.9L1038.2 160.1L1039.5 158.4L1040.7 156.9L1042 155.5L1043.2 154.2L1044.5 153.1L1045.7 152L1048.2 150.2L1050.7 148.8L1053.2 147.6L1055.7 146.8L1058.2 146.2L1060.7 145.8L1063.2 145.6L1065.7 145.6L1069.5 145.9L1072 146.2L1075.7 147L1079.5 148L1083.2 149.2L1087 150.5L1092 152.6L1095.7 154.3L1100.8 156.7L1108.3 160.6L1117 165.5L1127 171.5L1138.3 178.5L1147 184.1L1158.3 191.4L1195.8 216.3L1212.1 227L1228.3 237.5L1243.3 247" stroke-dashoffset="18.5"/>
</g>
<g>
<polygon points="763.41,67.83 751.56,60.99 751.56,74.67" fill="none" stroke="#FF0000" stroke-width="2.4" stroke-linejoin="miter"/>
<polygon points="788.43,53.06 776.58,46.22 776.58,59.91" fill="none" stroke="#FF0000" stroke-width="2.4" stroke-linejoin="miter"/>
<polygon points="813.44,43.22 801.59,36.38 801.59,50.06" fill="none" stroke="#FF0000" stroke-width="2.4" stroke-linejoin="miter"/>
<polygon points="838.46,38.35 826.61,31.51 826.61,45.19" fill="none" stroke="#FF0000" stroke-width="2.4" stroke-linejoin="miter"/>
<polygon points="863.48,38.63 851.63,31.79 851.63,45.47" fill="none" stroke="#FF0000" stroke-width="2.4" stroke-linejoin="miter"/>
<polygon points="888.5,44.61 876.65,37.77 876.65,51.45" fill="none" stroke="#FF0000" stroke-width="2.4" stroke-linejoin="miter"/>
<polygon points="913.51,57.96 901.66,51.11 901.66,64.8" fill="none" stroke="#FF0000" stroke-width="2.4" stroke-linejoin="miter"/>
<polygon points="944.79,93.9 932.94,87.06 932.94,100.74" fill="none" stroke="#FF0000" stroke-width="2.4" stroke-linejoin="miter"/>
<polygon points="957.29,121.44 945.44,114.6 945.44,128.29" fill="none" stroke="#FF0000" stroke-width="2.4" stroke-linejoin="miter"/>
<polygon points="969.8,165.56 957.95,158.72 957.95,172.41" fill="none" stroke="#FF0000" stroke-width="2.4" stroke-linejoin="miter"/>
<polygon points="982.31,238.61 970.46,231.77 970.46,245.45" fill="none" stroke="#FF0000" stroke-width="2.4" stroke-linejoin="miter"/>
<polygon points="988.57,289.96 976.72,283.12 976.72,296.8" fill="none" stroke="#FF0000" stroke-width="2.4" stroke-linejoin="miter"/>
<polygon points="997.2,380.3 985.35,373.46 985.35,387.14" fill="none" stroke="#FF0000" stroke-width="2.4" stroke-linejoin="miter"/>
<polygon points="1004.4,374.4 992.55,367.56 992.55,381.24" fill="none" stroke="#FF0000" stroke-width="2.4" stroke-linejoin="miter"/>
<polygon points="1007.33,352.17 995.48,345.33 995.48,359.01" fill="none" stroke="#FF0000" stroke-width="2.4" stroke-linejoin="miter"/>
<polygon points="1019.84,249.57 1007.99,242.72 1007.99,256.41" fill="none" stroke="#FF0000" stroke-width="2.4" stroke-linejoin="miter"/>
<polygon points="1032.35,190.72 1020.5,183.88 1020.5,197.57" fill="none" stroke="#FF0000" stroke-width="2.4" stroke-linejoin="miter"/>
<polygon points="1044.86,161.91 1033.01,155.07 1033.01,168.75" fill="none" stroke="#FF0000" stroke-width="2.4" stroke-linejoin="miter"/>
<polygon points="1057.36,149.46 1045.51,142.62 1045.51,156.3" fill="none" stroke="#FF0000" stroke-width="2.4" stroke-linejoin="miter"/>
<polygon points="1069.87,145.7 1058.02,138.85 1058.02,152.54" fill="none" stroke="#FF0000" stroke-width="2.4" stroke-linejoin="miter"/>
<polygon points="1094.89,150.54 1083.04,143.7 1083.04,157.38" fill="none" stroke="#FF0000" stroke-width="2.4" stroke-linejoin="miter"/>
<polygon points="1119.91,162.66 1108.06,155.81 1108.06,169.5" fill="none" stroke="#FF0000" stroke-width="2.4" stroke-linejoin="miter"/>
<polygon points="1144.93,177.69 1133.08,170.85 1133.08,184.53" fill="none" stroke="#FF0000" stroke-width="2.4" stroke-linejoin="miter"/>
<polygon points="1169.94,193.92 1158.09,187.07 1158.09,200.76" fill="none" stroke="#FF0000" stroke-width="2.4" stroke-linejoin="miter"/>
<polygon points="1194.96,210.5 1183.11,203.66 1183.11,217.34" fill="none" stroke="#FF0000" stroke-width="2.4" stroke-linejoin="miter"/>
<polygon points="1219.98,226.99 1208.13,220.14 1208.13,233.83" fill="none" stroke="#FF0000" stroke-width="2.4" stroke-linejoin="miter"/>
<polygon points="1245,243.08 1233.15,236.24 1233.15,249.92" fill="none" stroke="#FF0000" stroke-width="2.4" stroke-linejoin="miter"/>
</g>
<g clip-path="url(#clip2)" fill="none">
<path d="M743 77L746.8 74.2L750.5 71.4L756.8 67L763 62.9L769.3 59.1L775.5 55.6L781.8 52.5L788 49.6L794.3 47L800.5 44.8L806.8 42.9L813 41.2L819.3 39.9L825.6 38.9L831.8 38.2L838.1 37.9L844.3 37.8L848.1 38L850.6 38.1L854.3 38.5L856.8 38.8L860.6 39.3L863.1 39.8L866.8 40.6L869.3 41.2L873.1 42.2L875.6 42.9L880.6 44.6L884.3 46.1L886.9 47.1L891.9 49.5L896.9 52.2L899.4 53.7L901.9 55.4L904.4 57.1L906.9 58.9L909.4 60.8L911.9 62.9L914.4 65.1L916.9 67.5L920.6 71.3L924.4 75.6L928.1 80.4L931.9 85.7L934.4 89.7L936.9 93.9L939.4 98.5L941.9 103.5L944.4 108.9L946.9 114.9L949.4 121.4L951.9 128.6L954.4 136.5L956.9 145.2L958.2 149.9L960.7 160.1L961.9 165.6L964.4 177.4L965.7 183.8L966.9 190.5L969.2 203.6L972 221.8L973.7 233.7L975.3 245.3L976.7 256.6L978.7 272.6L981.4 297L984.8 329.2L988.1 363.2L993.2 417L997.1 375.6L1000.3 344L1003.1 317.5L1005.9 293.1L1007.7 279.5L1008.9 270.1L1010.3 260.3L1011.8 250.4L1014.3 235.3L1016.2 225.2L1017.2 220.2L1019.4 209.7L1020.7 204.4L1021.9 199.5L1023.2 195L1024.4 190.7L1025.7 186.8L1026.9 183.1L1028.2 179.7L1029.5 176.5L1030.7 173.6L1032 170.9L1033.2 168.3L1034.5 166L1035.7 163.9L1037 161.9L1038.2 160.1L1039.5 158.4L1040.7 156.9L1042 155.5L1043.2 154.2L1044.5 153.1L1045.7 152L1048.2 150.2L1050.7 148.8L1053.2 147.6L1055.7 146.8L1058.2 146.2L1060.7 145.8L1063.2 145.6L1065.7 145.6L1069.5 145.9L1072 146.2L1075.7 147L1079.5 148L1083.2 149.2L1087 150.5L1092 152.6L1095.7 154.3L1100.8 156.7L1108.3 160.6L1117 165.5L1127 171.5L1138.3 178.5L1147 184.1L1158.3 191.4L1195.8 216.3L1212.1 227L1228.3 237.5L1243.3 247" stroke="#FF0000" stroke-width="3.3" stroke-dasharray="3 2.6" stroke-dashoffset="0"/>
</g>
<g clip-path="url(#clip2)" fill="none" stroke="#77AC30" stroke-width="5.5" stroke-dasharray="22 22.7">
<path d="M743 77L748 73.3L753 69.8L758 66.6L761.8 64.5L766.8 61.9L770.5 60.1L775.5 58.1L779.3 56.8L781.8 56L784.3 55.3L788 54.4L790.5 54L793 53.6L796.8 53.2L799.3 53L801.8 52.9L805.5 53L808 53.2L810.5 53.4L814.3 54L816.8 54.5L819.3 55.1L823.1 56.1L826.8 57.4L830.6 59L833.1 60.1L835.6 61.4L839.3 63.4L843.1 65.8L846.8 68.4L849.3 70.2L851.8 72.2L855.6 75.4L859.3 78.9L863.1 82.6L866.8 86.7L870.6 91L874.3 95.6L878.1 100.6L881.8 105.8L885.6 111.4L889.4 117.4L891.9 121.5L895.6 128L898.1 132.5L901.9 139.7L904.4 144.6L908.1 152.3L911.9 160.4L915.6 168.9L918.1 174.8L921.9 184L924.4 190.3L926.9 196.8L930.6 206.9L933.1 213.8L936.9 224.5L943.1 243.2L949.4 262.9L955.6 283.4L961.9 304.8L968.2 326.8L993.2 417" stroke-dashoffset="36.06"/>
<path d="M993.2 417L1000.6 391.1L1007.1 369.2L1010.3 358.6L1013.4 348.6L1016.2 340.2L1019.4 330.4L1023.2 319.5L1025.7 312.6L1030.7 299.3L1034.5 289.9L1037 284L1039.5 278.2L1042 272.7L1044.5 267.5L1047 262.4L1049.5 257.6L1053.2 250.8L1055.7 246.5L1058.2 242.5L1060.7 238.7L1064.5 233.3L1067 230L1070.7 225.4L1073.2 222.5L1077 218.6L1079.5 216.2L1083.2 213L1085.7 211L1089.5 208.3L1092 206.7L1095.7 204.6L1099.5 202.8L1103.3 201.3L1105.8 200.4L1109.5 199.3L1113.3 198.5L1117 197.9L1120.8 197.5L1124.5 197.3L1128.3 197.3L1132 197.5L1135.8 197.8L1140.8 198.6L1144.5 199.3L1149.5 200.4L1153.3 201.4L1158.3 202.9L1163.3 204.7L1168.3 206.5L1173.3 208.6L1178.3 210.7L1183.3 213L1189.6 216.1L1194.6 218.6L1200.8 221.9L1207.1 225.4L1213.3 228.9L1219.6 232.5L1227.1 237L1234.6 241.6L1243.3 247" stroke-dashoffset="36.47"/>
</g>
<g>
<path d="M749.61 62.28L761.41 74.08M749.61 74.08L761.41 62.28" fill="none" stroke="#008000" stroke-width="3.0"/>
<path d="M774.63 50.47L786.43 62.27M774.63 62.27L786.43 50.47" fill="none" stroke="#008000" stroke-width="3.0"/>
<path d="M799.64 47.11L811.44 58.91M799.64 58.91L811.44 47.11" fill="none" stroke="#008000" stroke-width="3.0"/>
<path d="M824.66 53.05L836.46 64.85M824.66 64.85L836.46 53.05" fill="none" stroke="#008000" stroke-width="3.0"/>
<path d="M849.68 69.49L861.48 81.29M849.68 81.29L861.48 69.49" fill="none" stroke="#008000" stroke-width="3.0"/>
<path d="M874.7 98.14L886.5 109.94M874.7 109.94L886.5 98.14" fill="none" stroke="#008000" stroke-width="3.0"/>
<path d="M899.71 141.23L911.51 153.03M899.71 153.03L911.51 141.23" fill="none" stroke="#008000" stroke-width="3.0"/>
<path d="M918.48 184.39L930.28 196.19M918.48 196.19L930.28 184.39" fill="none" stroke="#008000" stroke-width="3.0"/>
<path d="M937.24 237.29L949.04 249.09M937.24 249.09L949.04 237.29" fill="none" stroke="#008000" stroke-width="3.0"/>
<path d="M956 298.9L967.8 310.7M956 310.7L967.8 298.9" fill="none" stroke="#008000" stroke-width="3.0"/>
<path d="M968.51 343.31L980.31 355.11M968.51 355.11L980.31 343.31" fill="none" stroke="#008000" stroke-width="3.0"/>
<path d="M982.27 393.17L994.07 404.97M982.27 404.97L994.07 393.17" fill="none" stroke="#008000" stroke-width="3.0"/>
<path d="M992.28 393.47L1004.08 405.27M992.28 405.27L1004.08 393.47" fill="none" stroke="#008000" stroke-width="3.0"/>
<path d="M1006.04 347.47L1017.84 359.27M1006.04 359.27L1017.84 347.47" fill="none" stroke="#008000" stroke-width="3.0"/>
<path d="M1024.8 293.4L1036.6 305.2M1024.8 305.2L1036.6 293.4" fill="none" stroke="#008000" stroke-width="3.0"/>
<path d="M1043.56 251.7L1055.36 263.5M1043.56 263.5L1055.36 251.7" fill="none" stroke="#008000" stroke-width="3.0"/>
<path d="M1062.33 222.49L1074.13 234.29M1062.33 234.29L1074.13 222.49" fill="none" stroke="#008000" stroke-width="3.0"/>
<path d="M1074.84 209.19L1086.64 220.99M1074.84 220.99L1086.64 209.19" fill="none" stroke="#008000" stroke-width="3.0"/>
<path d="M1099.85 194.49L1111.65 206.29M1099.85 206.29L1111.65 194.49" fill="none" stroke="#008000" stroke-width="3.0"/>
<path d="M1124.87 191.5L1136.67 203.3M1124.87 203.3L1136.67 191.5" fill="none" stroke="#008000" stroke-width="3.0"/>
<path d="M1149.89 196.26L1161.69 208.06M1149.89 208.06L1161.69 196.26" fill="none" stroke="#008000" stroke-width="3.0"/>
<path d="M1174.91 205.97L1186.71 217.77M1174.91 217.77L1186.71 205.97" fill="none" stroke="#008000" stroke-width="3.0"/>
<path d="M1199.92 218.75L1211.72 230.55M1199.92 230.55L1211.72 218.75" fill="none" stroke="#008000" stroke-width="3.0"/>
<path d="M1224.94 233.38L1236.74 245.18M1224.94 245.18L1236.74 233.38" fill="none" stroke="#008000" stroke-width="3.0"/>
</g>
<g clip-path="url(#clip2)" fill="none">
<path d="M743 77L748 73.3L753 69.8L758 66.6L761.8 64.5L766.8 61.9L770.5 60.1L775.5 58.1L779.3 56.8L781.8 56L784.3 55.3L788 54.4L790.5 54L793 53.6L796.8 53.2L799.3 53L801.8 52.9L805.5 53L808 53.2L810.5 53.4L814.3 54L816.8 54.5L819.3 55.1L823.1 56.1L826.8 57.4L830.6 59L833.1 60.1L835.6 61.4L839.3 63.4L843.1 65.8L846.8 68.4L849.3 70.2L851.8 72.2L855.6 75.4L859.3 78.9L863.1 82.6L866.8 86.7L870.6 91L874.3 95.6L878.1 100.6L881.8 105.8L885.6 111.4L889.4 117.4L891.9 121.5L895.6 128L898.1 132.5L901.9 139.7L904.4 144.6L908.1 152.3L911.9 160.4L915.6 168.9L918.1 174.8L921.9 184L924.4 190.3L926.9 196.8L930.6 206.9L933.1 213.8L936.9 224.5L943.1 243.2L949.4 262.9L955.6 283.4L961.9 304.8L968.2 326.8L993.2 417L1000.6 391.1L1007.1 369.2L1010.3 358.6L1013.4 348.6L1016.2 340.2L1019.4 330.4L1023.2 319.5L1025.7 312.6L1030.7 299.3L1034.5 289.9L1037 284L1039.5 278.2L1042 272.7L1044.5 267.5L1047 262.4L1049.5 257.6L1053.2 250.8L1055.7 246.5L1058.2 242.5L1060.7 238.7L1064.5 233.3L1067 230L1070.7 225.4L1073.2 222.5L1077 218.6L1079.5 216.2L1083.2 213L1085.7 211L1089.5 208.3L1092 206.7L1095.7 204.6L1099.5 202.8L1103.3 201.3L1105.8 200.4L1109.5 199.3L1113.3 198.5L1117 197.9L1120.8 197.5L1124.5 197.3L1128.3 197.3L1132 197.5L1135.8 197.8L1140.8 198.6L1144.5 199.3L1149.5 200.4L1153.3 201.4L1158.3 202.9L1163.3 204.7L1168.3 206.5L1173.3 208.6L1178.3 210.7L1183.3 213L1189.6 216.1L1194.6 218.6L1200.8 221.9L1207.1 225.4L1213.3 228.9L1219.6 232.5L1227.1 237L1234.6 241.6L1243.3 247" stroke="#008000" stroke-width="3.3" stroke-dasharray="3 2.6" stroke-dashoffset="0"/>
</g>
<g clip-path="url(#clip2)" fill="none" stroke="#0072BD" stroke-width="5.5" stroke-dasharray="22 22.7">
<path d="M743 77L746.8 74.2L749.3 72.5L753 70.2L755.5 68.9L759.3 67.1L761.8 66L765.5 64.7L768 64.1L771.8 63.3L774.3 62.9L778 62.7L780.5 62.7L783 62.9L786.8 63.4L789.3 63.9L793 64.9L795.5 65.7L799.3 67.2L801.8 68.4L805.5 70.5L808 72L811.8 74.6L814.3 76.4L818.1 79.5L820.6 81.7L824.3 85.2L826.8 87.7L830.6 91.7L833.1 94.6L836.8 99L840.6 103.7L844.3 108.7L849.3 115.7L851.8 119.4L855.6 125.1L861.8 135.1L868.1 145.8L874.3 156.9L878.1 163.9L881.8 171L888.1 183.3L895.6 198.5L900.6 209L906.9 222.4L913.1 236L919.4 249.9L931.9 278.3L958.2 338.8L970.2 366.3L982.4 393.6L993.2 417" stroke-dashoffset="35.31"/>
<path d="M993.2 417L1001.9 398.6L1010.3 381.6L1018.2 366.2L1025.7 352.1L1033.2 338.6L1037 332.1L1040.7 325.8L1044.5 319.6L1048.2 313.6L1052 307.8L1055.7 302.2L1059.5 296.7L1063.2 291.5L1067 286.4L1070.7 281.5L1074.5 276.8L1078.2 272.3L1082 267.9L1085.7 263.8L1089.5 259.9L1093.2 256.1L1095.7 253.7L1099.5 250.3L1103.3 247.1L1107 244.1L1110.8 241.3L1114.5 238.6L1118.3 236.2L1122 233.9L1125.8 231.8L1129.5 230L1133.3 228.3L1137 226.7L1140.8 225.4L1144.5 224.3L1148.3 223.3L1152 222.5L1155.8 221.8L1159.5 221.4L1163.3 221.1L1167 220.9L1170.8 220.9L1174.6 221.1L1178.3 221.4L1182.1 221.9L1185.8 222.5L1190.8 223.5L1194.6 224.5L1198.3 225.5L1202.1 226.7L1207.1 228.5L1210.8 230L1215.8 232.1L1219.6 233.8L1224.6 236.3L1228.3 238.3L1233.3 241L1238.3 244L1243.3 247" stroke-dashoffset="38.31"/>
</g>
<g>
<circle cx="755.51" cy="68.87" r="6.5" fill="none" stroke="#0000FF" stroke-width="2.4"/>
<circle cx="780.53" cy="62.71" r="6.5" fill="none" stroke="#0000FF" stroke-width="2.4"/>
<circle cx="805.54" cy="70.49" r="6.5" fill="none" stroke="#0000FF" stroke-width="2.4"/>
<circle cx="830.56" cy="91.73" r="6.5" fill="none" stroke="#0000FF" stroke-width="2.4"/>
<circle cx="855.58" cy="125.12" r="6.5" fill="none" stroke="#0000FF" stroke-width="2.4"/>
<circle cx="880.6" cy="168.61" r="6.5" fill="none" stroke="#0000FF" stroke-width="2.4"/>
<circle cx="905.61" cy="219.66" r="6.5" fill="none" stroke="#0000FF" stroke-width="2.4"/>
<circle cx="924.38" cy="261.22" r="6.5" fill="none" stroke="#0000FF" stroke-width="2.4"/>
<circle cx="943.14" cy="304.21" r="6.5" fill="none" stroke="#0000FF" stroke-width="2.4"/>
<circle cx="961.9" cy="347.44" r="6.5" fill="none" stroke="#0000FF" stroke-width="2.4"/>
<circle cx="974.41" cy="375.83" r="6.5" fill="none" stroke="#0000FF" stroke-width="2.4"/>
<circle cx="988.1" cy="408" r="6.5" fill="none" stroke="#0000FF" stroke-width="2.4"/>
<circle cx="998.5" cy="408" r="6.5" fill="none" stroke="#0000FF" stroke-width="2.4"/>
<circle cx="1011.94" cy="378.36" r="6.5" fill="none" stroke="#0000FF" stroke-width="2.4"/>
<circle cx="1030.7" cy="343.04" r="6.5" fill="none" stroke="#0000FF" stroke-width="2.4"/>
<circle cx="1049.46" cy="311.67" r="6.5" fill="none" stroke="#0000FF" stroke-width="2.4"/>
<circle cx="1068.23" cy="284.72" r="6.5" fill="none" stroke="#0000FF" stroke-width="2.4"/>
<circle cx="1080.74" cy="269.35" r="6.5" fill="none" stroke="#0000FF" stroke-width="2.4"/>
<circle cx="1105.75" cy="245.08" r="6.5" fill="none" stroke="#0000FF" stroke-width="2.4"/>
<circle cx="1130.77" cy="229.37" r="6.5" fill="none" stroke="#0000FF" stroke-width="2.4"/>
<circle cx="1155.79" cy="221.83" r="6.5" fill="none" stroke="#0000FF" stroke-width="2.4"/>
<circle cx="1180.81" cy="221.72" r="6.5" fill="none" stroke="#0000FF" stroke-width="2.4"/>
<circle cx="1205.82" cy="228.04" r="6.5" fill="none" stroke="#0000FF" stroke-width="2.4"/>
<circle cx="1230.84" cy="239.63" r="6.5" fill="none" stroke="#0000FF" stroke-width="2.4"/>
</g>
<g clip-path="url(#clip2)" fill="none">
<path d="M743 77L746.8 74.2L749.3 72.5L753 70.2L755.5 68.9L759.3 67.1L761.8 66L765.5 64.7L768 64.1L771.8 63.3L774.3 62.9L778 62.7L780.5 62.7L783 62.9L786.8 63.4L789.3 63.9L793 64.9L795.5 65.7L799.3 67.2L801.8 68.4L805.5 70.5L808 72L811.8 74.6L814.3 76.4L818.1 79.5L820.6 81.7L824.3 85.2L826.8 87.7L830.6 91.7L833.1 94.6L836.8 99L840.6 103.7L844.3 108.7L849.3 115.7L851.8 119.4L855.6 125.1L861.8 135.1L868.1 145.8L874.3 156.9L878.1 163.9L881.8 171L888.1 183.3L895.6 198.5L900.6 209L906.9 222.4L913.1 236L919.4 249.9L931.9 278.3L958.2 338.8L970.2 366.3L982.4 393.6L993.2 417L1001.9 398.6L1010.3 381.6L1018.2 366.2L1025.7 352.1L1033.2 338.6L1037 332.1L1040.7 325.8L1044.5 319.6L1048.2 313.6L1052 307.8L1055.7 302.2L1059.5 296.7L1063.2 291.5L1067 286.4L1070.7 281.5L1074.5 276.8L1078.2 272.3L1082 267.9L1085.7 263.8L1089.5 259.9L1093.2 256.1L1095.7 253.7L1099.5 250.3L1103.3 247.1L1107 244.1L1110.8 241.3L1114.5 238.6L1118.3 236.2L1122 233.9L1125.8 231.8L1129.5 230L1133.3 228.3L1137 226.7L1140.8 225.4L1144.5 224.3L1148.3 223.3L1152 222.5L1155.8 221.8L1159.5 221.4L1163.3 221.1L1167 220.9L1170.8 220.9L1174.6 221.1L1178.3 221.4L1182.1 221.9L1185.8 222.5L1190.8 223.5L1194.6 224.5L1198.3 225.5L1202.1 226.7L1207.1 228.5L1210.8 230L1215.8 232.1L1219.6 233.8L1224.6 236.3L1228.3 238.3L1233.3 241L1238.3 244L1243.3 247" stroke="#0000FF" stroke-width="3.3" stroke-dasharray="3 2.6" stroke-dashoffset="0"/>
</g>
<rect x="749.7" y="229.3" width="155.6" height="183.4" fill="#fff" stroke="#4a4a4a" stroke-width="1"/>
<circle cx="783.3" cy="249.9" r="7.6" fill="#000"/>
<text x="814.8" y="261.7" font-family="'DejaVu Sans Light', 'Liberation Serif', serif" font-style="italic" font-size="25.8" fill="#000">β</text>
<text transform="translate(838.5 262.6) scale(1.03 0.9)" font-family="'Liberation Sans', sans-serif" font-size="27.5" fill="#000" stroke="#000" stroke-width="0.5">=</text>
<text x="862.1" y="261.7" font-family="'Liberation Sans', sans-serif" font-size="27.5" fill="#000" stroke="#000" stroke-width="0.35">0.0</text>
<rect x="777.9" y="280" width="10.8" height="10.8" fill="none" stroke="#0072BD" stroke-width="2.3"/>
<text x="814.8" y="297.2" font-family="'DejaVu Sans Light', 'Liberation Serif', serif" font-style="italic" font-size="25.8" fill="#000">β</text>
<text transform="translate(838.5 298.1) scale(1.03 0.9)" font-family="'Liberation Sans', sans-serif" font-size="27.5" fill="#000" stroke="#000" stroke-width="0.5">=</text>
<text x="862.1" y="297.2" font-family="'Liberation Sans', sans-serif" font-size="27.5" fill="#000" stroke="#000" stroke-width="0.35">0.1</text>
<polygon points="791.2,321.3 779.35,314.46 779.35,328.14" fill="none" stroke="#FF0000" stroke-width="2.4" stroke-linejoin="miter"/>
<text x="814.8" y="333.1" font-family="'DejaVu Sans Light', 'Liberation Serif', serif" font-style="italic" font-size="25.8" fill="#000">β</text>
<text transform="translate(838.5 334) scale(1.03 0.9)" font-family="'Liberation Sans', sans-serif" font-size="27.5" fill="#000" stroke="#000" stroke-width="0.5">=</text>
<text x="862.1" y="333.1" font-family="'Liberation Sans', sans-serif" font-size="27.5" fill="#000" stroke="#000" stroke-width="0.35">0.2</text>
<path d="M777.4 351.1L789.2 362.9M777.4 362.9L789.2 351.1" fill="none" stroke="#008000" stroke-width="3.0"/>
<text x="814.8" y="368.8" font-family="'DejaVu Sans Light', 'Liberation Serif', serif" font-style="italic" font-size="25.8" fill="#000">β</text>
<text transform="translate(838.5 369.7) scale(1.03 0.9)" font-family="'Liberation Sans', sans-serif" font-size="27.5" fill="#000" stroke="#000" stroke-width="0.5">=</text>
<text x="862.1" y="368.8" font-family="'Liberation Sans', sans-serif" font-size="27.5" fill="#000" stroke="#000" stroke-width="0.35">0.6</text>
<circle cx="783.3" cy="392.6" r="6.5" fill="none" stroke="#0000FF" stroke-width="2.4"/>
<text x="814.8" y="404.4" font-family="'DejaVu Sans Light', 'Liberation Serif', serif" font-style="italic" font-size="25.8" fill="#000">β</text>
<text transform="translate(838.5 405.3) scale(1.03 0.9)" font-family="'Liberation Sans', sans-serif" font-size="27.5" fill="#000" stroke="#000" stroke-width="0.5">=</text>
<text x="862.1" y="404.4" font-family="'Liberation Sans', sans-serif" font-size="27.5" fill="#000" stroke="#000" stroke-width="0.35">1.0</text>
<clipPath id="clip3"><rect x="424.7" y="550.05" width="500.35" height="407.95"/></clipPath>
<g fill="none" stroke="#262626" stroke-width="1.0">
<rect x="424.7" y="550.05" width="500.35" height="407.95"/>
<path stroke-width="1" d="M549.79 958v-5.5M549.79 550.05v5.5M674.88 958v-5.5M674.88 550.05v5.5M799.96 958v-5.5M799.96 550.05v5.5M424.7 867.34h5.5M925.05 867.34h-5.5M424.7 776.69h5.5M925.05 776.69h-5.5M424.7 686.03h5.5M925.05 686.03h-5.5M424.7 595.38h5.5M925.05 595.38h-5.5"/>
</g>
<g font-family="'Liberation Sans', sans-serif" font-size="30.5" fill="#262626" stroke="#262626" stroke-width="0.35">
<text x="424.7" y="999" text-anchor="middle">0</text>
<text x="549.79" y="999" text-anchor="middle">0.5</text>
<text x="674.88" y="999" text-anchor="middle">1</text>
<text x="799.96" y="999" text-anchor="middle">1.5</text>
<text x="925.05" y="999" text-anchor="middle">2</text>
<text x="414.5" y="971" text-anchor="end">0</text>
<text x="414.5" y="880" text-anchor="end">1</text>
<text x="414.5" y="789" text-anchor="end">2</text>
<text x="414.5" y="699" text-anchor="end">3</text>
<text x="414.5" y="608" text-anchor="end">4</text>
</g>
<text transform="translate(673.98 1041.1) scale(1.12 1)" text-anchor="middle" font-family="'Liberation Serif', serif" font-style="italic" font-size="32" fill="#111">α</text>
<g font-family="'Liberation Sans', sans-serif" font-size="31.8" fill="#262626" stroke="#262626" stroke-width="0.35">
<text transform="translate(386.6 754.02) rotate(-90)" x="-27.4" y="0">&lt;</text>
<text transform="translate(386.6 754.02) rotate(-90)" x="8.1" y="0">&gt;</text>
</g>
<text transform="translate(383.8 766.32) rotate(-90) scale(1.2 1)" x="0" y="0" font-family="'DejaVu Sans Light', 'Liberation Serif', serif" font-style="italic" font-size="25.5" fill="#262626" stroke="#262626" stroke-width="0.45">τ</text>
<g clip-path="url(#clip3)" fill="none" stroke="#000000" stroke-width="6.0" stroke-dasharray="25 19.7">
<path d="M433.5 862L442.2 856.5L451 850.8L459.7 845.1L468.5 839.2L477.2 833.3L487.2 826.4L506 813.1L516 805.8L527.3 797.6L549.8 780.8L573.6 762.8L619.8 727.4L639.9 712.2L660.4 696.8L678.3 683.5L689.4 675.5L699.9 667.9L709.9 660.9L719.9 653.9L729.9 647.1L738.7 641.3L748.7 634.7L757.4 629.1L768.7 622.1L779.9 615.2L791.2 608.6L801.2 602.9L812.5 596.8L822.5 591.5L833.7 585.8L843.7 581L855 575.8L865 571.5L875 567.3L885 563.4L895 559.7L905 556.3L915 553L925 550" stroke-dashoffset="25.69"/>
</g>
<g>
<circle cx="437.21" cy="859.62" r="6.9" fill="#000"/>
<circle cx="468.48" cy="839.24" r="6.9" fill="#000"/>
<circle cx="499.75" cy="817.55" r="6.9" fill="#000"/>
<circle cx="531.02" cy="794.83" r="6.9" fill="#000"/>
<circle cx="562.3" cy="771.37" r="6.9" fill="#000"/>
<circle cx="593.57" cy="747.52" r="6.9" fill="#000"/>
<circle cx="624.84" cy="723.6" r="6.9" fill="#000"/>
<circle cx="656.11" cy="699.95" r="6.9" fill="#000"/>
<circle cx="674.88" cy="686.03" r="6.9" fill="#000"/>
<circle cx="693.64" cy="672.4" r="6.9" fill="#000"/>
<circle cx="724.91" cy="650.51" r="6.9" fill="#000"/>
<circle cx="756.18" cy="629.88" r="6.9" fill="#000"/>
<circle cx="787.45" cy="610.8" r="6.9" fill="#000"/>
<circle cx="818.73" cy="593.47" r="6.9" fill="#000"/>
<circle cx="850" cy="578.11" r="6.9" fill="#000"/>
<circle cx="881.27" cy="564.85" r="6.9" fill="#000"/>
<circle cx="912.54" cy="553.82" r="6.9" fill="#000"/>
</g>
<g clip-path="url(#clip3)" fill="none">
<path d="M424.7 867.3L433.5 862L443.5 855.7L452.2 850L462.2 843.4L472.2 836.7L482.2 829.8L492.2 822.9L503.5 814.9L513.5 807.7L524.8 799.4L548.5 781.8L572.3 763.8L619.8 727.4L639.9 712.2L660.4 696.8L678.5 683.4L689.4 675.5L699.9 667.9L709.9 660.9L719.9 653.9L729.9 647.1L738.7 641.3L748.7 634.7L757.4 629.1L768.7 622.1L779.9 615.2L791.2 608.6L801.2 602.9L812.5 596.8L822.5 591.5L833.7 585.8L843.7 581L855 575.8L865 571.5L875 567.3L885 563.4L895 559.7L905 556.3L915 553L925 550" stroke="#555555" stroke-width="3.3" stroke-dasharray="3 2.6" stroke-dashoffset="0"/>
</g>
<g clip-path="url(#clip3)" fill="none" stroke="#4DBEEE" stroke-width="5.5" stroke-dasharray="22 22.7">
<path d="M424.7 867.3L438.5 858.8L452.2 850L467.2 840.1L482.2 829.9L497.3 819.5L513.5 808L528.5 797.1L561 773.5L576.1 762.8L583.6 757.6L589.8 753.3L596.1 749.2L601.1 746L604.8 743.7L608.6 741.5L612.3 739.4L614.8 738.1L617.3 736.9L619.8 735.8L622.3 734.8L624.8 734L627.3 733.3L629.8 732.8L632.3 732.5L633.6 732.4L634.8 732.5L636.1 732.6L637.3 732.8L638.6 733.2L639.9 733.6L641.1 734.2L642.4 734.9L643.6 735.8L644.9 736.9L646.1 738.3L647.4 739.8L648.6 741.6L649.9 743.8L650.9 745.8L651.9 748L652.8 750.3L653.7 752.9L654.6 755.6L655.4 758.4L657 764.5L657.7 767.8L659.1 774.7L659.8 778.3L661 785.8L662.6 797.6L663.6 805.7L664.5 813.9L666.1 830.1L667.8 849.5L669.4 870.5L670.9 893.5L672.7 921.3L674.9 958" stroke-dashoffset="34.57"/>
<path d="M674.9 958L677.5 914.2L679.3 883.8L681.1 857L682.9 832.7L684.8 810.3L686.6 791.4L687.6 781.9L688.8 772.4L690.6 758.4L692 749.3L692.7 744.9L694.3 736.3L695.1 732.1L696.9 724.1L697.9 720.2L699.9 712.7L701.1 708.6L702.4 704.8L703.6 701.2L704.9 698L706.1 694.9L707.4 692L709.9 686.8L712.4 682.1L714.9 677.9L717.4 674L721.2 668.8L723.7 665.6L727.4 661.2L731.2 657.1L734.9 653.3L739.9 648.6L744.9 644.2L749.9 640L756.2 635L762.4 630.3L768.7 625.8L774.9 621.4L782.5 616.4L790 611.6L797.5 606.9L805 602.4L812.5 598.1L820 593.9L828.7 589.2L836.2 585.3L845 581L852.5 577.4L861.3 573.4L870 569.6L877.5 566.5L886.3 563.1L893.8 560.2L902.5 557.1L910 554.6L917.5 552.3L925 550" stroke-dashoffset="33.35"/>
</g>
<g>
<rect x="431.76" y="854.17" width="10.9" height="10.9" fill="none" stroke="#4DBEEE" stroke-width="2.3"/>
<rect x="456.78" y="838.02" width="10.9" height="10.9" fill="none" stroke="#4DBEEE" stroke-width="2.3"/>
<rect x="481.79" y="821.03" width="10.9" height="10.9" fill="none" stroke="#4DBEEE" stroke-width="2.3"/>
<rect x="506.81" y="803.4" width="10.9" height="10.9" fill="none" stroke="#4DBEEE" stroke-width="2.3"/>
<rect x="531.83" y="785.34" width="10.9" height="10.9" fill="none" stroke="#4DBEEE" stroke-width="2.3"/>
<rect x="556.85" y="767.19" width="10.9" height="10.9" fill="none" stroke="#4DBEEE" stroke-width="2.3"/>
<rect x="581.86" y="749.54" width="10.9" height="10.9" fill="none" stroke="#4DBEEE" stroke-width="2.3"/>
<rect x="600.63" y="737.49" width="10.9" height="10.9" fill="none" stroke="#4DBEEE" stroke-width="2.3"/>
<rect x="619.39" y="728.52" width="10.9" height="10.9" fill="none" stroke="#4DBEEE" stroke-width="2.3"/>
<rect x="638.15" y="730.4" width="10.9" height="10.9" fill="none" stroke="#4DBEEE" stroke-width="2.3"/>
<rect x="650.66" y="755.44" width="10.9" height="10.9" fill="none" stroke="#4DBEEE" stroke-width="2.3"/>
<rect x="665.95" y="885.75" width="10.9" height="10.9" fill="none" stroke="#4DBEEE" stroke-width="2.3"/>
<rect x="674.95" y="885.75" width="10.9" height="10.9" fill="none" stroke="#4DBEEE" stroke-width="2.3"/>
<rect x="688.19" y="734.39" width="10.9" height="10.9" fill="none" stroke="#4DBEEE" stroke-width="2.3"/>
<rect x="706.95" y="676.65" width="10.9" height="10.9" fill="none" stroke="#4DBEEE" stroke-width="2.3"/>
<rect x="725.71" y="651.68" width="10.9" height="10.9" fill="none" stroke="#4DBEEE" stroke-width="2.3"/>
<rect x="744.48" y="634.51" width="10.9" height="10.9" fill="none" stroke="#4DBEEE" stroke-width="2.3"/>
<rect x="756.99" y="624.82" width="10.9" height="10.9" fill="none" stroke="#4DBEEE" stroke-width="2.3"/>
<rect x="782" y="607.7" width="10.9" height="10.9" fill="none" stroke="#4DBEEE" stroke-width="2.3"/>
<rect x="807.02" y="592.65" width="10.9" height="10.9" fill="none" stroke="#4DBEEE" stroke-width="2.3"/>
<rect x="832.04" y="579.26" width="10.9" height="10.9" fill="none" stroke="#4DBEEE" stroke-width="2.3"/>
<rect x="857.06" y="567.43" width="10.9" height="10.9" fill="none" stroke="#4DBEEE" stroke-width="2.3"/>
<rect x="882.07" y="557.13" width="10.9" height="10.9" fill="none" stroke="#4DBEEE" stroke-width="2.3"/>
<rect x="907.09" y="548.38" width="10.9" height="10.9" fill="none" stroke="#4DBEEE" stroke-width="2.3"/>
</g>
<g clip-path="url(#clip3)" fill="none">
<path d="M424.7 867.3L438.5 858.8L452.2 850L467.2 840.1L482.2 829.9L497.3 819.5L513.5 808L528.5 797.1L561 773.5L576.1 762.8L583.6 757.6L589.8 753.3L596.1 749.2L601.1 746L604.8 743.7L608.6 741.5L612.3 739.4L614.8 738.1L617.3 736.9L619.8 735.8L622.3 734.8L624.8 734L627.3 733.3L629.8 732.8L632.3 732.5L633.6 732.4L634.8 732.5L636.1 732.6L637.3 732.8L638.6 733.2L639.9 733.6L641.1 734.2L642.4 734.9L643.6 735.8L644.9 736.9L646.1 738.3L647.4 739.8L648.6 741.6L649.9 743.8L650.9 745.8L651.9 748L652.8 750.3L653.7 752.9L654.6 755.6L655.4 758.4L657 764.5L657.7 767.8L659.1 774.7L659.8 778.3L661 785.8L662.6 797.6L663.6 805.7L664.5 813.9L666.1 830.1L667.8 849.5L669.4 870.5L670.9 893.5L672.7 921.3L674.9 958L677.5 914.2L679.3 883.8L681.1 857L682.9 832.7L684.8 810.3L686.6 791.4L687.6 781.9L688.8 772.4L690.6 758.4L692 749.3L692.7 744.9L694.3 736.3L695.1 732.1L696.9 724.1L697.9 720.2L699.9 712.7L701.1 708.6L702.4 704.8L703.6 701.2L704.9 698L706.1 694.9L707.4 692L709.9 686.8L712.4 682.1L714.9 677.9L717.4 674L721.2 668.8L723.7 665.6L727.4 661.2L731.2 657.1L734.9 653.3L739.9 648.6L744.9 644.2L749.9 640L756.2 635L762.4 630.3L768.7 625.8L774.9 621.4L782.5 616.4L790 611.6L797.5 606.9L805 602.4L812.5 598.1L820 593.9L828.7 589.2L836.2 585.3L845 581L852.5 577.4L861.3 573.4L870 569.6L877.5 566.5L886.3 563.1L893.8 560.2L902.5 557.1L910 554.6L917.5 552.3L925 550" stroke="#5a75a8" stroke-width="3.3" stroke-dasharray="3 2.6" stroke-dashoffset="0"/>
</g>
<g clip-path="url(#clip3)" fill="none" stroke="#FF4D7A" stroke-width="5.5" stroke-dasharray="22 22.7">
<path d="M424.7 867.3L434.7 861.2L446 854.1L457.2 846.8L468.5 839.4L489.7 825.1L532.3 796L548.5 785.1L556 780.2L562.3 776.3L568.6 772.5L574.8 768.9L578.6 766.8L582.3 764.9L586.1 763L589.8 761.3L593.6 759.8L596.1 758.8L599.8 757.6L602.3 756.9L606.1 756.1L608.6 755.8L611.1 755.6L613.6 755.5L616.1 755.7L618.6 756.1L621.1 756.8L622.3 757.2L624.8 758.4L626.1 759.1L627.3 759.9L628.6 760.8L629.8 761.8L631.1 762.9L632.3 764.2L633.6 765.5L634.8 767.1L636.1 768.8L637.3 770.6L638.6 772.6L639.9 774.8L641.1 777.2L642.4 779.8L643.6 782.7L644.9 785.7L646.1 789.1L647.4 792.7L648.6 796.5L649.9 800.7L651.9 808.1L652.8 811.9L654.6 819.5L657 831L658.4 838.6L659.8 846L661 853.2L662.6 863.5L665.4 882.1L668.1 902.3L671.1 926.4L674.9 958" stroke-dashoffset="36.51"/>
<path d="M674.9 958L680.2 912.9L683.3 887.2L686.6 860.9L689.4 840.8L692 822.9L693.5 813.3L695.1 803.5L697.9 788.3L699.9 777.9L701.1 771.9L702.4 766.1L704.9 755.4L706.1 750.3L708.6 741L709.9 736.6L712.4 728.4L713.7 724.5L716.2 717.3L717.4 713.9L719.9 707.5L722.4 701.6L724.9 696.1L727.4 691L729.9 686.2L732.4 681.7L734.9 677.5L737.4 673.5L741.2 667.9L744.9 662.7L748.7 657.9L752.4 653.3L757.4 647.6L761.2 643.6L766.2 638.6L771.2 633.8L776.2 629.3L781.2 625L786.2 620.9L791.2 617L797.5 612.3L803.7 607.9L810 603.6L816.2 599.5L823.7 594.8L830 591.1L837.5 586.8L843.7 583.4L851.2 579.4L858.8 575.7L866.3 572.1L872.5 569.3L880 566L887.5 562.9L895 560L902.5 557.3L910 554.7L917.5 552.3L925 550" stroke-dashoffset="12.74"/>
</g>
<g>
<polygon points="444.01,859.63 433.81,853.74 433.81,865.52" fill="none" stroke="#FF0000" stroke-width="2.4" stroke-linejoin="miter"/>
<polygon points="469.03,843.56 458.83,837.68 458.83,849.45" fill="none" stroke="#FF0000" stroke-width="2.4" stroke-linejoin="miter"/>
<polygon points="494.04,826.82 483.84,820.93 483.84,832.71" fill="none" stroke="#FF0000" stroke-width="2.4" stroke-linejoin="miter"/>
<polygon points="519.06,809.68 508.86,803.79 508.86,815.57" fill="none" stroke="#FF0000" stroke-width="2.4" stroke-linejoin="miter"/>
<polygon points="544.08,792.58 533.88,786.69 533.88,798.47" fill="none" stroke="#FF0000" stroke-width="2.4" stroke-linejoin="miter"/>
<polygon points="569.1,776.29 558.9,770.4 558.9,782.18" fill="none" stroke="#FF0000" stroke-width="2.4" stroke-linejoin="miter"/>
<polygon points="594.11,762.46 583.91,756.57 583.91,768.34" fill="none" stroke="#FF0000" stroke-width="2.4" stroke-linejoin="miter"/>
<polygon points="612.88,756.12 602.68,750.23 602.68,762.01" fill="none" stroke="#FF0000" stroke-width="2.4" stroke-linejoin="miter"/>
<polygon points="631.64,758.38 621.44,752.49 621.44,764.27" fill="none" stroke="#FF0000" stroke-width="2.4" stroke-linejoin="miter"/>
<polygon points="650.4,782.66 640.2,776.77 640.2,788.55" fill="none" stroke="#FF0000" stroke-width="2.4" stroke-linejoin="miter"/>
<polygon points="662.91,826.58 652.71,820.69 652.71,832.47" fill="none" stroke="#FF0000" stroke-width="2.4" stroke-linejoin="miter"/>
<polygon points="677.6,924 667.4,918.11 667.4,929.89" fill="none" stroke="#FF0000" stroke-width="2.4" stroke-linejoin="miter"/>
<polygon points="686.8,923.6 676.6,917.71 676.6,929.49" fill="none" stroke="#FF0000" stroke-width="2.4" stroke-linejoin="miter"/>
<polygon points="700.44,812.55 690.24,806.66 690.24,818.44" fill="none" stroke="#FF0000" stroke-width="2.4" stroke-linejoin="miter"/>
<polygon points="719.2,728.37 709,722.48 709,734.26" fill="none" stroke="#FF0000" stroke-width="2.4" stroke-linejoin="miter"/>
<polygon points="737.96,683.95 727.76,678.06 727.76,689.84" fill="none" stroke="#FF0000" stroke-width="2.4" stroke-linejoin="miter"/>
<polygon points="756.73,656.3 746.53,650.41 746.53,662.19" fill="none" stroke="#FF0000" stroke-width="2.4" stroke-linejoin="miter"/>
<polygon points="769.24,642.32 759.04,636.43 759.04,648.21" fill="none" stroke="#FF0000" stroke-width="2.4" stroke-linejoin="miter"/>
<polygon points="794.25,619.94 784.05,614.05 784.05,625.83" fill="none" stroke="#FF0000" stroke-width="2.4" stroke-linejoin="miter"/>
<polygon points="819.27,601.94 809.07,596.06 809.07,607.83" fill="none" stroke="#FF0000" stroke-width="2.4" stroke-linejoin="miter"/>
<polygon points="844.29,586.79 834.09,580.9 834.09,592.67" fill="none" stroke="#FF0000" stroke-width="2.4" stroke-linejoin="miter"/>
<polygon points="869.31,573.86 859.11,567.97 859.11,579.75" fill="none" stroke="#FF0000" stroke-width="2.4" stroke-linejoin="miter"/>
<polygon points="894.32,562.92 884.12,557.03 884.12,568.81" fill="none" stroke="#FF0000" stroke-width="2.4" stroke-linejoin="miter"/>
<polygon points="919.34,553.87 909.14,547.98 909.14,559.76" fill="none" stroke="#FF0000" stroke-width="2.4" stroke-linejoin="miter"/>
</g>
<g clip-path="url(#clip3)" fill="none">
<path d="M424.7 867.3L434.7 861.2L446 854.1L457.2 846.8L468.5 839.4L489.7 825.1L532.3 796L548.5 785.1L556 780.2L562.3 776.3L568.6 772.5L574.8 768.9L578.6 766.8L582.3 764.9L586.1 763L589.8 761.3L593.6 759.8L596.1 758.8L599.8 757.6L602.3 756.9L606.1 756.1L608.6 755.8L611.1 755.6L613.6 755.5L616.1 755.7L618.6 756.1L621.1 756.8L622.3 757.2L624.8 758.4L626.1 759.1L627.3 759.9L628.6 760.8L629.8 761.8L631.1 762.9L632.3 764.2L633.6 765.5L634.8 767.1L636.1 768.8L637.3 770.6L638.6 772.6L639.9 774.8L641.1 777.2L642.4 779.8L643.6 782.7L644.9 785.7L646.1 789.1L647.4 792.7L648.6 796.5L649.9 800.7L651.9 808.1L652.8 811.9L654.6 819.5L657 831L658.4 838.6L659.8 846L661 853.2L662.6 863.5L665.4 882.1L668.1 902.3L671.1 926.4L674.9 958L680.2 912.9L683.3 887.2L686.6 860.9L689.4 840.8L692 822.9L693.5 813.3L695.1 803.5L697.9 788.3L699.9 777.9L701.1 771.9L702.4 766.1L704.9 755.4L706.1 750.3L708.6 741L709.9 736.6L712.4 728.4L713.7 724.5L716.2 717.3L717.4 713.9L719.9 707.5L722.4 701.6L724.9 696.1L727.4 691L729.9 686.2L732.4 681.7L734.9 677.5L737.4 673.5L741.2 667.9L744.9 662.7L748.7 657.9L752.4 653.3L757.4 647.6L761.2 643.6L766.2 638.6L771.2 633.8L776.2 629.3L781.2 625L786.2 620.9L791.2 617L797.5 612.3L803.7 607.9L810 603.6L816.2 599.5L823.7 594.8L830 591.1L837.5 586.8L843.7 583.4L851.2 579.4L858.8 575.7L866.3 572.1L872.5 569.3L880 566L887.5 562.9L895 560L902.5 557.3L910 554.7L917.5 552.3L925 550" stroke="#FF0000" stroke-width="3.3" stroke-dasharray="3 2.6" stroke-dashoffset="0"/>
</g>
<g clip-path="url(#clip3)" fill="none" stroke="#77AC30" stroke-width="5.5" stroke-dasharray="22 22.7">
<path d="M424.7 867.3L449.7 852.1L463.5 843.9L476 836.6L487.2 830.3L497.3 825L502.3 822.4L507.3 820L512.3 817.8L516 816.1L521 814.1L524.8 812.7L529.8 810.9L533.5 809.7L537.3 808.7L541 807.7L544.8 806.9L548.5 806.3L552.3 805.8L556 805.4L559.8 805.3L563.5 805.3L567.3 805.6L569.8 805.9L573.6 806.5L576.1 807.1L579.8 808.1L582.3 808.9L586.1 810.5L588.6 811.6L592.3 813.6L594.8 815.2L598.6 817.7L601.1 819.6L603.6 821.7L606.1 823.9L609.8 827.6L612.3 830.3L614.8 833.1L617.3 836.1L621.1 841L623.6 844.6L626.1 848.3L628.6 852.2L631.1 856.3L633.6 860.6L636.1 865.1L639.9 872.2L642.4 877.2L644.9 882.4L647.4 887.8L650.9 895.7L656.2 908.4L659.1 915.5L662.1 923.2L668.4 939.8L674.9 958" stroke-dashoffset="37.95"/>
<path d="M674.9 958L683.6 932.6L706.1 865.3L716.2 836.1L722.4 818.5L727.4 804.8L733.7 788.2L738.7 775.4L744.9 760L751.2 745.3L757.4 731.4L763.7 718.1L769.9 705.6L776.2 693.7L782.5 682.4L786.2 676L790 669.8L793.7 663.7L797.5 657.9L801.2 652.3L805 646.9L808.7 641.6L812.5 636.5L816.2 631.6L820 626.9L823.7 622.4L827.5 618L831.2 613.7L836.2 608.3L840 604.4L845 599.4L848.7 595.9L853.8 591.3L857.5 588.1L862.5 583.9L866.3 581L871.3 577.2L875 574.5L880 571.2L883.8 568.8L888.8 565.8L892.5 563.7L897.5 561L901.3 559.2L906.3 556.9L911.3 554.8L916.3 552.9L921.3 551.2L925 550" stroke-dashoffset="25.83"/>
</g>
<g>
<path d="M432.71 855.23L441.71 864.23M432.71 864.23L441.71 855.23" fill="none" stroke="#008000" stroke-width="3.0"/>
<path d="M457.73 840.1L466.73 849.1M457.73 849.1L466.73 840.1" fill="none" stroke="#008000" stroke-width="3.0"/>
<path d="M482.74 825.76L491.74 834.76M482.74 834.76L491.74 825.76" fill="none" stroke="#008000" stroke-width="3.0"/>
<path d="M507.76 813.25L516.76 822.25M507.76 822.25L516.76 813.25" fill="none" stroke="#008000" stroke-width="3.0"/>
<path d="M532.78 804.15L541.78 813.15M532.78 813.15L541.78 804.15" fill="none" stroke="#008000" stroke-width="3.0"/>
<path d="M557.8 800.79L566.8 809.79M557.8 809.79L566.8 800.79" fill="none" stroke="#008000" stroke-width="3.0"/>
<path d="M582.81 806.52L591.81 815.52M582.81 815.52L591.81 806.52" fill="none" stroke="#008000" stroke-width="3.0"/>
<path d="M601.58 819.42L610.58 828.42M601.58 828.42L610.58 819.42" fill="none" stroke="#008000" stroke-width="3.0"/>
<path d="M620.34 841.88L629.34 850.88M620.34 850.88L629.34 841.88" fill="none" stroke="#008000" stroke-width="3.0"/>
<path d="M639.1 875.26L648.1 884.26M639.1 884.26L648.1 875.26" fill="none" stroke="#008000" stroke-width="3.0"/>
<path d="M651.61 903.56L660.61 912.56M651.61 912.56L660.61 903.56" fill="none" stroke="#008000" stroke-width="3.0"/>
<path d="M665.37 939.47L674.37 948.47M665.37 948.47L674.37 939.47" fill="none" stroke="#008000" stroke-width="3.0"/>
<path d="M675.38 939.08L684.38 948.08M675.38 948.08L684.38 939.08" fill="none" stroke="#008000" stroke-width="3.0"/>
<path d="M689.14 898.23L698.14 907.23M689.14 907.23L698.14 898.23" fill="none" stroke="#008000" stroke-width="3.0"/>
<path d="M707.9 842.47L716.9 851.47M707.9 851.47L716.9 842.47" fill="none" stroke="#008000" stroke-width="3.0"/>
<path d="M726.66 790.22L735.66 799.22M726.66 799.22L735.66 790.22" fill="none" stroke="#008000" stroke-width="3.0"/>
<path d="M745.43 743.71L754.43 752.71M745.43 752.71L754.43 743.71" fill="none" stroke="#008000" stroke-width="3.0"/>
<path d="M757.94 716.23L766.94 725.23M757.94 725.23L766.94 716.23" fill="none" stroke="#008000" stroke-width="3.0"/>
<path d="M782.95 669.39L791.95 678.39M782.95 678.39L791.95 669.39" fill="none" stroke="#008000" stroke-width="3.0"/>
<path d="M807.97 632.04L816.97 641.04M807.97 641.04L816.97 632.04" fill="none" stroke="#008000" stroke-width="3.0"/>
<path d="M832.99 602.48L841.99 611.48M832.99 611.48L841.99 602.48" fill="none" stroke="#008000" stroke-width="3.0"/>
<path d="M858.01 579.42L867.01 588.42M858.01 588.42L867.01 579.42" fill="none" stroke="#008000" stroke-width="3.0"/>
<path d="M883.02 562.01L892.02 571.01M883.02 571.01L892.02 562.01" fill="none" stroke="#008000" stroke-width="3.0"/>
<path d="M908.04 549.77L917.04 558.77M908.04 558.77L917.04 549.77" fill="none" stroke="#008000" stroke-width="3.0"/>
</g>
<g clip-path="url(#clip3)" fill="none">
<path d="M424.7 867.3L449.7 852.1L463.5 843.9L476 836.6L487.2 830.3L497.3 825L502.3 822.4L507.3 820L512.3 817.8L516 816.1L521 814.1L524.8 812.7L529.8 810.9L533.5 809.7L537.3 808.7L541 807.7L544.8 806.9L548.5 806.3L552.3 805.8L556 805.4L559.8 805.3L563.5 805.3L567.3 805.6L569.8 805.9L573.6 806.5L576.1 807.1L579.8 808.1L582.3 808.9L586.1 810.5L588.6 811.6L592.3 813.6L594.8 815.2L598.6 817.7L601.1 819.6L603.6 821.7L606.1 823.9L609.8 827.6L612.3 830.3L614.8 833.1L617.3 836.1L621.1 841L623.6 844.6L626.1 848.3L628.6 852.2L631.1 856.3L633.6 860.6L636.1 865.1L639.9 872.2L642.4 877.2L644.9 882.4L647.4 887.8L650.9 895.7L656.2 908.4L659.1 915.5L662.1 923.2L668.4 939.8L674.9 958L683.6 932.6L706.1 865.3L716.2 836.1L722.4 818.5L727.4 804.8L733.7 788.2L738.7 775.4L744.9 760L751.2 745.3L757.4 731.4L763.7 718.1L769.9 705.6L776.2 693.7L782.5 682.4L786.2 676L790 669.8L793.7 663.7L797.5 657.9L801.2 652.3L805 646.9L808.7 641.6L812.5 636.5L816.2 631.6L820 626.9L823.7 622.4L827.5 618L831.2 613.7L836.2 608.3L840 604.4L845 599.4L848.7 595.9L853.8 591.3L857.5 588.1L862.5 583.9L866.3 581L871.3 577.2L875 574.5L880 571.2L883.8 568.8L888.8 565.8L892.5 563.7L897.5 561L901.3 559.2L906.3 556.9L911.3 554.8L916.3 552.9L921.3 551.2L925 550" stroke="#008000" stroke-width="3.3" stroke-dasharray="3 2.6" stroke-dashoffset="0"/>
</g>
<g clip-path="url(#clip3)" fill="none" stroke="#0000FF" stroke-width="5.5" stroke-dasharray="22 22.7">
<path d="M424.7 867.3L436 860.6L442.2 857.1L447.2 854.3L452.2 851.6L457.2 849.1L462.2 846.6L466 844.8L471 842.6L474.7 841L479.7 839L483.5 837.7L488.5 836L492.2 834.8L496 833.8L499.8 832.9L504.8 831.8L508.5 831.1L512.3 830.6L516 830.2L519.8 829.9L523.5 829.7L527.3 829.7L531 829.9L534.8 830.1L538.5 830.5L542.3 831.1L546 831.8L549.8 832.7L553.5 833.8L557.3 834.9L559.8 835.8L563.5 837.3L567.3 838.9L571.1 840.7L574.8 842.7L578.6 844.9L582.3 847.2L586.1 849.7L588.6 851.4L592.3 854.2L596.1 857.1L598.6 859.2L602.3 862.5L604.8 864.7L608.6 868.2L612.3 872L616.1 875.8L622.3 882.7L626.1 887L629.8 891.5L633.6 896.2L637.3 901.1L641.1 906.1L644.9 911.2L651.9 921.3L655.4 926.6L659.8 933.3L667.2 945.1L674.9 958" stroke-dashoffset="37.93"/>
<path d="M674.9 958L679.5 950L684.4 941.4L689.4 932.3L694.3 923.2L699.9 912.6L704.9 903L714.9 883.2L724.9 863L734.9 842.3L744.9 821.4L768.7 771.4L779.9 747.9L791.2 724.9L801.2 705L806.2 695.2L811.2 685.7L816.2 676.3L821.2 667.2L826.2 658.3L830 651.7L835 643.3L838.7 637.1L845 627.1L851.2 617.7L857.5 608.7L862.5 601.9L866.3 597L868.8 593.9L873.8 587.9L878.8 582.3L883.8 577.1L887.5 573.4L890 571.1L895 566.8L897.5 564.8L900 562.9L902.5 561.1L905 559.4L907.5 557.9L910 556.4L912.5 555.1L915 553.8L917.5 552.7L920 551.7L922.5 550.8L925 550" stroke-dashoffset="39.43"/>
</g>
<g>
<circle cx="437.21" cy="859.92" r="5.65" fill="none" stroke="#0000FF" stroke-width="2.4"/>
<circle cx="462.23" cy="846.6" r="5.65" fill="none" stroke="#0000FF" stroke-width="2.4"/>
<circle cx="487.24" cy="836.39" r="5.65" fill="none" stroke="#0000FF" stroke-width="2.4"/>
<circle cx="512.26" cy="830.59" r="5.65" fill="none" stroke="#0000FF" stroke-width="2.4"/>
<circle cx="537.28" cy="830.39" r="5.65" fill="none" stroke="#0000FF" stroke-width="2.4"/>
<circle cx="562.3" cy="836.8" r="5.65" fill="none" stroke="#0000FF" stroke-width="2.4"/>
<circle cx="587.31" cy="850.52" r="5.65" fill="none" stroke="#0000FF" stroke-width="2.4"/>
<circle cx="606.08" cy="865.87" r="5.65" fill="none" stroke="#0000FF" stroke-width="2.4"/>
<circle cx="624.84" cy="885.57" r="5.65" fill="none" stroke="#0000FF" stroke-width="2.4"/>
<circle cx="643.6" cy="909.49" r="5.65" fill="none" stroke="#0000FF" stroke-width="2.4"/>
<circle cx="656.11" cy="927.67" r="5.65" fill="none" stroke="#0000FF" stroke-width="2.4"/>
<circle cx="671.4" cy="951.3" r="5.65" fill="none" stroke="#0000FF" stroke-width="2.4"/>
<circle cx="679.4" cy="951.3" r="5.65" fill="none" stroke="#0000FF" stroke-width="2.4"/>
<circle cx="693.64" cy="924.43" r="5.65" fill="none" stroke="#0000FF" stroke-width="2.4"/>
<circle cx="712.4" cy="888.23" r="5.65" fill="none" stroke="#0000FF" stroke-width="2.4"/>
<circle cx="731.16" cy="850.11" r="5.65" fill="none" stroke="#0000FF" stroke-width="2.4"/>
<circle cx="749.93" cy="810.86" r="5.65" fill="none" stroke="#0000FF" stroke-width="2.4"/>
<circle cx="762.44" cy="784.5" r="5.65" fill="none" stroke="#0000FF" stroke-width="2.4"/>
<circle cx="787.45" cy="732.51" r="5.65" fill="none" stroke="#0000FF" stroke-width="2.4"/>
<circle cx="812.47" cy="683.33" r="5.65" fill="none" stroke="#0000FF" stroke-width="2.4"/>
<circle cx="837.49" cy="639.12" r="5.65" fill="none" stroke="#0000FF" stroke-width="2.4"/>
<circle cx="862.51" cy="601.89" r="5.65" fill="none" stroke="#0000FF" stroke-width="2.4"/>
<circle cx="887.52" cy="573.39" r="5.65" fill="none" stroke="#0000FF" stroke-width="2.4"/>
<circle cx="912.54" cy="555.07" r="5.65" fill="none" stroke="#0000FF" stroke-width="2.4"/>
</g>
<g clip-path="url(#clip3)" fill="none">
<path d="M424.7 867.3L436 860.6L442.2 857.1L447.2 854.3L452.2 851.6L457.2 849.1L462.2 846.6L466 844.8L471 842.6L474.7 841L479.7 839L483.5 837.7L488.5 836L492.2 834.8L496 833.8L499.8 832.9L504.8 831.8L508.5 831.1L512.3 830.6L516 830.2L519.8 829.9L523.5 829.7L527.3 829.7L531 829.9L534.8 830.1L538.5 830.5L542.3 831.1L546 831.8L549.8 832.7L553.5 833.8L557.3 834.9L559.8 835.8L563.5 837.3L567.3 838.9L571.1 840.7L574.8 842.7L578.6 844.9L582.3 847.2L586.1 849.7L588.6 851.4L592.3 854.2L596.1 857.1L598.6 859.2L602.3 862.5L604.8 864.7L608.6 868.2L612.3 872L616.1 875.8L622.3 882.7L626.1 887L629.8 891.5L633.6 896.2L637.3 901.1L641.1 906.1L644.9 911.2L651.9 921.3L655.4 926.6L659.8 933.3L667.2 945.1L674.9 958L679.5 950L684.4 941.4L689.4 932.3L694.3 923.2L699.9 912.6L704.9 903L714.9 883.2L724.9 863L734.9 842.3L744.9 821.4L768.7 771.4L779.9 747.9L791.2 724.9L801.2 705L806.2 695.2L811.2 685.7L816.2 676.3L821.2 667.2L826.2 658.3L830 651.7L835 643.3L838.7 637.1L845 627.1L851.2 617.7L857.5 608.7L862.5 601.9L866.3 597L868.8 593.9L873.8 587.9L878.8 582.3L883.8 577.1L887.5 573.4L890 571.1L895 566.8L897.5 564.8L900 562.9L902.5 561.1L905 559.4L907.5 557.9L910 556.4L912.5 555.1L915 553.8L917.5 552.7L920 551.7L922.5 550.8L925 550" stroke="#0072BD" stroke-width="3.3" stroke-dasharray="3 2.6" stroke-dashoffset="0"/>
</g>
<rect x="431.3" y="555.2" width="156" height="183.8" fill="#fff" stroke="#3a3a3a" stroke-width="1"/>
<circle cx="465.3" cy="575.7" r="6.9" fill="#000"/>
<text x="496.8" y="587.5" font-family="'DejaVu Sans Light', 'Liberation Serif', serif" font-style="italic" font-size="25.8" fill="#000">β</text>
<text transform="translate(520.5 588.4) scale(1.03 0.9)" font-family="'Liberation Sans', sans-serif" font-size="27.5" fill="#000" stroke="#000" stroke-width="0.5">=</text>
<text x="544.1" y="587.5" font-family="'Liberation Sans', sans-serif" font-size="27.5" fill="#000" stroke="#000" stroke-width="0.35">0.0</text>
<rect x="459.85" y="606.25" width="10.9" height="10.9" fill="none" stroke="#4DBEEE" stroke-width="2.3"/>
<text x="496.8" y="623.5" font-family="'DejaVu Sans Light', 'Liberation Serif', serif" font-style="italic" font-size="25.8" fill="#000">β</text>
<text transform="translate(520.5 624.4) scale(1.03 0.9)" font-family="'Liberation Sans', sans-serif" font-size="27.5" fill="#000" stroke="#000" stroke-width="0.5">=</text>
<text x="544.1" y="623.5" font-family="'Liberation Sans', sans-serif" font-size="27.5" fill="#000" stroke="#000" stroke-width="0.35">0.1</text>
<polygon points="472.1,647.2 461.9,641.31 461.9,653.09" fill="none" stroke="#FF0000" stroke-width="2.4" stroke-linejoin="miter"/>
<text x="496.8" y="659" font-family="'DejaVu Sans Light', 'Liberation Serif', serif" font-style="italic" font-size="25.8" fill="#000">β</text>
<text transform="translate(520.5 659.9) scale(1.03 0.9)" font-family="'Liberation Sans', sans-serif" font-size="27.5" fill="#000" stroke="#000" stroke-width="0.5">=</text>
<text x="544.1" y="659" font-family="'Liberation Sans', sans-serif" font-size="27.5" fill="#000" stroke="#000" stroke-width="0.35">0.2</text>
<path d="M460.8 678.8L469.8 687.8M460.8 687.8L469.8 678.8" fill="none" stroke="#008000" stroke-width="3.0"/>
<text x="496.8" y="695.1" font-family="'DejaVu Sans Light', 'Liberation Serif', serif" font-style="italic" font-size="25.8" fill="#000">β</text>
<text transform="translate(520.5 696) scale(1.03 0.9)" font-family="'Liberation Sans', sans-serif" font-size="27.5" fill="#000" stroke="#000" stroke-width="0.5">=</text>
<text x="544.1" y="695.1" font-family="'Liberation Sans', sans-serif" font-size="27.5" fill="#000" stroke="#000" stroke-width="0.35">0.6</text>
<circle cx="465.3" cy="718.8" r="5.65" fill="none" stroke="#0000FF" stroke-width="2.4"/>
<text x="496.8" y="730.6" font-family="'DejaVu Sans Light', 'Liberation Serif', serif" font-style="italic" font-size="25.8" fill="#000">β</text>
<text transform="translate(520.5 731.5) scale(1.03 0.9)" font-family="'Liberation Sans', sans-serif" font-size="27.5" fill="#000" stroke="#000" stroke-width="0.5">=</text>
<text x="544.1" y="730.6" font-family="'Liberation Sans', sans-serif" font-size="27.5" fill="#000" stroke="#000" stroke-width="0.35">1.0</text>
</svg>
</body></html>
